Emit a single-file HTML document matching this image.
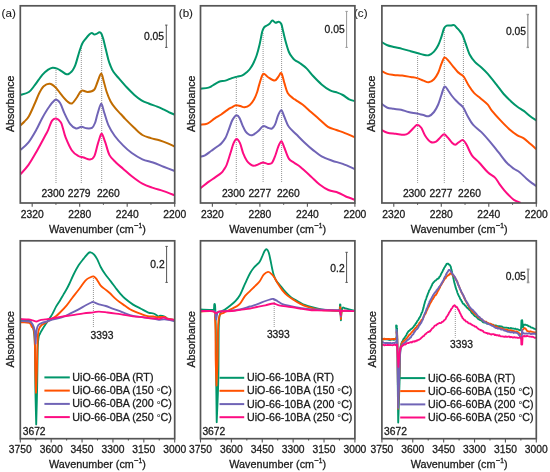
<!DOCTYPE html>
<html><head><meta charset="utf-8"><style>
html,body{margin:0;padding:0;background:#fff;}
svg{display:block;will-change:transform;}
</style></head><body>
<svg width="550" height="472" viewBox="0 0 550 472" font-family='"Liberation Sans", sans-serif' fill="#1a1a1a">
<style>text{stroke:#1a1a1a;stroke-width:0.28px;}</style>
<rect width="550" height="472" fill="#fff"/>
<defs>
<clipPath id="ct0"><rect x="20.30" y="5.80" width="154.40" height="197.20"/></clipPath>
<clipPath id="cb0"><rect x="20.30" y="240.80" width="154.40" height="197.90"/></clipPath>
<clipPath id="ct1"><rect x="200.50" y="5.80" width="154.40" height="197.20"/></clipPath>
<clipPath id="cb1"><rect x="200.50" y="240.80" width="154.40" height="197.90"/></clipPath>
<clipPath id="ct2"><rect x="381.90" y="5.80" width="154.40" height="197.20"/></clipPath>
<clipPath id="cb2"><rect x="381.90" y="240.80" width="154.40" height="197.90"/></clipPath>
</defs>
<line x1="32.18" y1="203.00" x2="32.18" y2="206.80" stroke="#555555" stroke-width="1.1"/>
<text x="32.18" y="217.60" font-size="10.3" text-anchor="middle" >2320</text>
<line x1="79.68" y1="203.00" x2="79.68" y2="206.80" stroke="#555555" stroke-width="1.1"/>
<text x="79.68" y="217.60" font-size="10.3" text-anchor="middle" >2280</text>
<line x1="127.19" y1="203.00" x2="127.19" y2="206.80" stroke="#555555" stroke-width="1.1"/>
<text x="127.19" y="217.60" font-size="10.3" text-anchor="middle" >2240</text>
<line x1="174.70" y1="203.00" x2="174.70" y2="206.80" stroke="#555555" stroke-width="1.1"/>
<text x="174.70" y="217.60" font-size="10.3" text-anchor="middle" >2200</text>
<line x1="55.93" y1="203.00" x2="55.93" y2="204.80" stroke="#555555" stroke-width="1.1"/>
<line x1="103.44" y1="203.00" x2="103.44" y2="204.80" stroke="#555555" stroke-width="1.1"/>
<line x1="150.95" y1="203.00" x2="150.95" y2="204.80" stroke="#555555" stroke-width="1.1"/>
<text x="97.50" y="232.60" font-size="10.8" text-anchor="middle">Wavenumber (cm<tspan font-size="7.6" dy="-4.9" dx="0.2">−</tspan><tspan font-size="6.6" dx="0.1">1</tspan><tspan dy="4.9" dx="0.1">)</tspan></text>
<text transform="translate(14.30,103.80) rotate(-90)" font-size="10.6" text-anchor="middle">Absorbance</text>
<line x1="20.30" y1="438.70" x2="20.30" y2="442.50" stroke="#555555" stroke-width="1.1"/>
<text x="20.30" y="452.70" font-size="10.3" text-anchor="middle" >3750</text>
<line x1="51.18" y1="438.70" x2="51.18" y2="442.50" stroke="#555555" stroke-width="1.1"/>
<text x="51.18" y="452.70" font-size="10.3" text-anchor="middle" >3600</text>
<line x1="82.06" y1="438.70" x2="82.06" y2="442.50" stroke="#555555" stroke-width="1.1"/>
<text x="82.06" y="452.70" font-size="10.3" text-anchor="middle" >3450</text>
<line x1="112.94" y1="438.70" x2="112.94" y2="442.50" stroke="#555555" stroke-width="1.1"/>
<text x="112.94" y="452.70" font-size="10.3" text-anchor="middle" >3300</text>
<line x1="143.82" y1="438.70" x2="143.82" y2="442.50" stroke="#555555" stroke-width="1.1"/>
<text x="143.82" y="452.70" font-size="10.3" text-anchor="middle" >3150</text>
<line x1="174.70" y1="438.70" x2="174.70" y2="442.50" stroke="#555555" stroke-width="1.1"/>
<text x="174.70" y="452.70" font-size="10.3" text-anchor="middle" >3000</text>
<line x1="35.74" y1="438.70" x2="35.74" y2="440.50" stroke="#555555" stroke-width="1.1"/>
<line x1="66.62" y1="438.70" x2="66.62" y2="440.50" stroke="#555555" stroke-width="1.1"/>
<line x1="97.50" y1="438.70" x2="97.50" y2="440.50" stroke="#555555" stroke-width="1.1"/>
<line x1="128.38" y1="438.70" x2="128.38" y2="440.50" stroke="#555555" stroke-width="1.1"/>
<line x1="159.26" y1="438.70" x2="159.26" y2="440.50" stroke="#555555" stroke-width="1.1"/>
<text x="97.50" y="468.30" font-size="10.8" text-anchor="middle">Wavenumber (cm<tspan font-size="7.6" dy="-4.9" dx="0.2">−</tspan><tspan font-size="6.6" dx="0.1">1</tspan><tspan dy="4.9" dx="0.1">)</tspan></text>
<text transform="translate(14.30,339.30) rotate(-90)" font-size="10.6" text-anchor="middle">Absorbance</text>
<line x1="212.38" y1="203.00" x2="212.38" y2="206.80" stroke="#555555" stroke-width="1.1"/>
<text x="212.38" y="217.60" font-size="10.3" text-anchor="middle" >2320</text>
<line x1="259.88" y1="203.00" x2="259.88" y2="206.80" stroke="#555555" stroke-width="1.1"/>
<text x="259.88" y="217.60" font-size="10.3" text-anchor="middle" >2280</text>
<line x1="307.39" y1="203.00" x2="307.39" y2="206.80" stroke="#555555" stroke-width="1.1"/>
<text x="307.39" y="217.60" font-size="10.3" text-anchor="middle" >2240</text>
<line x1="354.90" y1="203.00" x2="354.90" y2="206.80" stroke="#555555" stroke-width="1.1"/>
<text x="354.90" y="217.60" font-size="10.3" text-anchor="middle" >2200</text>
<line x1="236.13" y1="203.00" x2="236.13" y2="204.80" stroke="#555555" stroke-width="1.1"/>
<line x1="283.64" y1="203.00" x2="283.64" y2="204.80" stroke="#555555" stroke-width="1.1"/>
<line x1="331.15" y1="203.00" x2="331.15" y2="204.80" stroke="#555555" stroke-width="1.1"/>
<text x="277.70" y="232.60" font-size="10.8" text-anchor="middle">Wavenumber (cm<tspan font-size="7.6" dy="-4.9" dx="0.2">−</tspan><tspan font-size="6.6" dx="0.1">1</tspan><tspan dy="4.9" dx="0.1">)</tspan></text>
<text transform="translate(194.50,103.80) rotate(-90)" font-size="10.6" text-anchor="middle">Absorbance</text>
<line x1="200.50" y1="438.70" x2="200.50" y2="442.50" stroke="#555555" stroke-width="1.1"/>
<text x="200.50" y="452.70" font-size="10.3" text-anchor="middle" >3750</text>
<line x1="231.38" y1="438.70" x2="231.38" y2="442.50" stroke="#555555" stroke-width="1.1"/>
<text x="231.38" y="452.70" font-size="10.3" text-anchor="middle" >3600</text>
<line x1="262.26" y1="438.70" x2="262.26" y2="442.50" stroke="#555555" stroke-width="1.1"/>
<text x="262.26" y="452.70" font-size="10.3" text-anchor="middle" >3450</text>
<line x1="293.14" y1="438.70" x2="293.14" y2="442.50" stroke="#555555" stroke-width="1.1"/>
<text x="293.14" y="452.70" font-size="10.3" text-anchor="middle" >3300</text>
<line x1="324.02" y1="438.70" x2="324.02" y2="442.50" stroke="#555555" stroke-width="1.1"/>
<text x="324.02" y="452.70" font-size="10.3" text-anchor="middle" >3150</text>
<line x1="354.90" y1="438.70" x2="354.90" y2="442.50" stroke="#555555" stroke-width="1.1"/>
<text x="354.90" y="452.70" font-size="10.3" text-anchor="middle" >3000</text>
<line x1="215.94" y1="438.70" x2="215.94" y2="440.50" stroke="#555555" stroke-width="1.1"/>
<line x1="246.82" y1="438.70" x2="246.82" y2="440.50" stroke="#555555" stroke-width="1.1"/>
<line x1="277.70" y1="438.70" x2="277.70" y2="440.50" stroke="#555555" stroke-width="1.1"/>
<line x1="308.58" y1="438.70" x2="308.58" y2="440.50" stroke="#555555" stroke-width="1.1"/>
<line x1="339.46" y1="438.70" x2="339.46" y2="440.50" stroke="#555555" stroke-width="1.1"/>
<text x="277.70" y="468.30" font-size="10.8" text-anchor="middle">Wavenumber (cm<tspan font-size="7.6" dy="-4.9" dx="0.2">−</tspan><tspan font-size="6.6" dx="0.1">1</tspan><tspan dy="4.9" dx="0.1">)</tspan></text>
<text transform="translate(194.50,339.30) rotate(-90)" font-size="10.6" text-anchor="middle">Absorbance</text>
<line x1="393.78" y1="203.00" x2="393.78" y2="206.80" stroke="#555555" stroke-width="1.1"/>
<text x="393.78" y="217.60" font-size="10.3" text-anchor="middle" >2320</text>
<line x1="441.28" y1="203.00" x2="441.28" y2="206.80" stroke="#555555" stroke-width="1.1"/>
<text x="441.28" y="217.60" font-size="10.3" text-anchor="middle" >2280</text>
<line x1="488.79" y1="203.00" x2="488.79" y2="206.80" stroke="#555555" stroke-width="1.1"/>
<text x="488.79" y="217.60" font-size="10.3" text-anchor="middle" >2240</text>
<line x1="536.30" y1="203.00" x2="536.30" y2="206.80" stroke="#555555" stroke-width="1.1"/>
<text x="536.30" y="217.60" font-size="10.3" text-anchor="middle" >2200</text>
<line x1="417.53" y1="203.00" x2="417.53" y2="204.80" stroke="#555555" stroke-width="1.1"/>
<line x1="465.04" y1="203.00" x2="465.04" y2="204.80" stroke="#555555" stroke-width="1.1"/>
<line x1="512.55" y1="203.00" x2="512.55" y2="204.80" stroke="#555555" stroke-width="1.1"/>
<text x="459.10" y="232.60" font-size="10.8" text-anchor="middle">Wavenumber (cm<tspan font-size="7.6" dy="-4.9" dx="0.2">−</tspan><tspan font-size="6.6" dx="0.1">1</tspan><tspan dy="4.9" dx="0.1">)</tspan></text>
<text transform="translate(375.30,103.80) rotate(-90)" font-size="10.6" text-anchor="middle">Absorbance</text>
<line x1="381.90" y1="438.70" x2="381.90" y2="442.50" stroke="#555555" stroke-width="1.1"/>
<text x="381.90" y="452.70" font-size="10.3" text-anchor="middle" >3750</text>
<line x1="412.78" y1="438.70" x2="412.78" y2="442.50" stroke="#555555" stroke-width="1.1"/>
<text x="412.78" y="452.70" font-size="10.3" text-anchor="middle" >3600</text>
<line x1="443.66" y1="438.70" x2="443.66" y2="442.50" stroke="#555555" stroke-width="1.1"/>
<text x="443.66" y="452.70" font-size="10.3" text-anchor="middle" >3450</text>
<line x1="474.54" y1="438.70" x2="474.54" y2="442.50" stroke="#555555" stroke-width="1.1"/>
<text x="474.54" y="452.70" font-size="10.3" text-anchor="middle" >3300</text>
<line x1="505.42" y1="438.70" x2="505.42" y2="442.50" stroke="#555555" stroke-width="1.1"/>
<text x="505.42" y="452.70" font-size="10.3" text-anchor="middle" >3150</text>
<line x1="536.30" y1="438.70" x2="536.30" y2="442.50" stroke="#555555" stroke-width="1.1"/>
<text x="536.30" y="452.70" font-size="10.3" text-anchor="middle" >3000</text>
<line x1="397.34" y1="438.70" x2="397.34" y2="440.50" stroke="#555555" stroke-width="1.1"/>
<line x1="428.22" y1="438.70" x2="428.22" y2="440.50" stroke="#555555" stroke-width="1.1"/>
<line x1="459.10" y1="438.70" x2="459.10" y2="440.50" stroke="#555555" stroke-width="1.1"/>
<line x1="489.98" y1="438.70" x2="489.98" y2="440.50" stroke="#555555" stroke-width="1.1"/>
<line x1="520.86" y1="438.70" x2="520.86" y2="440.50" stroke="#555555" stroke-width="1.1"/>
<text x="459.10" y="468.30" font-size="10.8" text-anchor="middle">Wavenumber (cm<tspan font-size="7.6" dy="-4.9" dx="0.2">−</tspan><tspan font-size="6.6" dx="0.1">1</tspan><tspan dy="4.9" dx="0.1">)</tspan></text>
<text transform="translate(375.50,339.30) rotate(-90)" font-size="10.6" text-anchor="middle">Absorbance</text>
<text x="1.60" y="16.70" font-size="11.6" text-anchor="start" style="stroke-width:0.1px">(a)</text>
<text x="178.80" y="16.70" font-size="11.6" text-anchor="start" style="stroke-width:0.1px">(b)</text>
<text x="354.00" y="16.70" font-size="11.6" text-anchor="start" style="stroke-width:0.1px">(c)</text>
<line x1="56.00" y1="70.00" x2="56.00" y2="183.50" stroke="#808080" stroke-width="0.85" stroke-dasharray="1 1"/>
<line x1="81.30" y1="48.00" x2="81.30" y2="183.50" stroke="#808080" stroke-width="0.85" stroke-dasharray="1 1"/>
<line x1="101.70" y1="34.00" x2="101.70" y2="183.50" stroke="#808080" stroke-width="0.85" stroke-dasharray="1 1"/>
<line x1="236.30" y1="78.00" x2="236.30" y2="182.80" stroke="#808080" stroke-width="0.85" stroke-dasharray="1 1"/>
<line x1="263.10" y1="33.00" x2="263.10" y2="182.80" stroke="#808080" stroke-width="0.85" stroke-dasharray="1 1"/>
<line x1="281.60" y1="25.00" x2="281.60" y2="182.80" stroke="#808080" stroke-width="0.85" stroke-dasharray="1 1"/>
<line x1="417.60" y1="56.00" x2="417.60" y2="182.90" stroke="#808080" stroke-width="0.85" stroke-dasharray="1 1"/>
<line x1="444.30" y1="28.00" x2="444.30" y2="182.90" stroke="#808080" stroke-width="0.85" stroke-dasharray="1 1"/>
<line x1="463.40" y1="39.00" x2="463.40" y2="182.90" stroke="#808080" stroke-width="0.85" stroke-dasharray="1 1"/>
<g clip-path="url(#ct0)">
<path d="M20.30,174.40 C21.67,172.82 25.73,168.80 28.50,164.90 C31.27,161.00 34.08,155.93 36.90,151.00 C39.72,146.07 43.52,138.83 45.40,135.30 C47.28,131.77 47.12,132.22 48.20,129.80 C49.28,127.38 50.58,122.67 51.90,120.80 C53.22,118.93 54.62,118.35 56.10,118.60 C57.58,118.85 59.65,120.65 60.80,122.30 C61.95,123.95 62.20,125.98 63.00,128.50 C63.80,131.02 64.12,133.73 65.60,137.40 C67.08,141.07 69.78,147.40 71.90,150.50 C74.02,153.60 76.35,154.83 78.30,156.00 C80.25,157.17 81.67,156.90 83.60,157.50 C85.53,158.10 88.13,159.78 89.90,159.60 C91.67,159.42 92.97,158.70 94.20,156.40 C95.43,154.10 96.50,148.53 97.30,145.80 C98.10,143.07 98.27,142.00 99.00,140.00 C99.73,138.00 100.65,133.40 101.70,133.80 C102.75,134.20 104.00,138.85 105.30,142.40 C106.60,145.95 107.73,151.75 109.50,155.10 C111.27,158.45 113.60,160.20 115.90,162.50 C118.20,164.80 120.65,166.60 123.30,168.90 C125.95,171.20 128.62,173.83 131.80,176.30 C134.98,178.77 138.87,181.77 142.40,183.70 C145.93,185.63 149.47,186.67 153.00,187.90 C156.53,189.13 159.98,189.87 163.60,191.10 C167.22,192.33 172.85,194.60 174.70,195.30" fill="none" stroke="#fd0c82" stroke-width="2.0" stroke-linejoin="round" stroke-linecap="round" />
<path d="M20.30,150.10 C21.67,148.80 25.83,145.68 28.50,142.30 C31.17,138.92 34.00,133.87 36.30,129.80 C38.60,125.73 40.07,121.87 42.30,117.90 C44.53,113.93 47.48,109.02 49.70,106.00 C51.92,102.98 53.87,100.30 55.60,99.80 C57.33,99.30 58.62,100.73 60.10,103.00 C61.58,105.27 62.85,109.93 64.50,113.40 C66.15,116.87 68.07,121.28 70.00,123.80 C71.93,126.32 74.20,128.00 76.10,128.50 C78.00,129.00 79.63,126.83 81.40,126.80 C83.17,126.77 84.93,128.13 86.70,128.30 C88.47,128.47 90.62,128.68 92.00,127.80 C93.38,126.92 94.08,125.30 95.00,123.00 C95.92,120.70 96.47,117.20 97.50,114.00 C98.53,110.80 100.08,104.05 101.20,103.80 C102.32,103.55 102.98,108.90 104.20,112.50 C105.42,116.10 106.73,121.48 108.50,125.40 C110.27,129.32 112.33,132.63 114.80,136.00 C117.27,139.37 120.47,142.77 123.30,145.60 C126.13,148.43 128.62,150.72 131.80,153.00 C134.98,155.28 138.87,157.72 142.40,159.30 C145.93,160.88 149.47,161.27 153.00,162.50 C156.53,163.73 159.98,165.28 163.60,166.70 C167.22,168.12 172.85,170.28 174.70,171.00" fill="none" stroke="#7064b6" stroke-width="2.0" stroke-linejoin="round" stroke-linecap="round" />
<path d="M20.30,125.50 C21.00,124.83 23.07,123.05 24.50,121.50 C25.93,119.95 27.18,119.20 28.90,116.20 C30.62,113.20 33.07,107.37 34.80,103.50 C36.53,99.63 37.82,95.88 39.30,93.00 C40.78,90.12 41.97,87.75 43.70,86.20 C45.43,84.65 47.72,83.50 49.70,83.70 C51.68,83.90 53.63,85.53 55.60,87.40 C57.57,89.27 59.52,92.55 61.50,94.90 C63.48,97.25 65.77,100.07 67.50,101.50 C69.23,102.93 70.40,104.08 71.90,103.50 C73.40,102.92 74.92,100.12 76.50,98.00 C78.08,95.88 79.52,91.82 81.40,90.80 C83.28,89.78 85.67,92.08 87.80,91.90 C89.93,91.72 92.58,91.35 94.20,89.70 C95.82,88.05 96.33,84.72 97.50,82.00 C98.67,79.28 100.15,73.48 101.20,73.40 C102.25,73.32 102.88,78.40 103.80,81.50 C104.72,84.60 105.58,88.72 106.70,92.00 C107.82,95.28 109.07,98.50 110.50,101.20 C111.93,103.90 113.55,106.02 115.30,108.20 C117.05,110.38 119.32,112.48 121.00,114.30 C122.68,116.12 123.25,116.90 125.40,119.10 C127.55,121.30 131.07,124.85 133.90,127.50 C136.73,130.15 139.58,133.23 142.40,135.00 C145.22,136.77 147.98,137.22 150.80,138.10 C153.62,138.98 156.47,139.42 159.30,140.30 C162.13,141.18 165.23,142.35 167.80,143.40 C170.37,144.45 173.55,146.07 174.70,146.60" fill="none" stroke="#c06c00" stroke-width="2.0" stroke-linejoin="round" stroke-linecap="round" />
<path d="M20.30,95.00 C21.73,94.50 26.48,93.63 28.90,92.00 C31.32,90.37 32.57,88.07 34.80,85.20 C37.03,82.33 40.07,77.40 42.30,74.80 C44.53,72.20 46.48,70.78 48.20,69.60 C49.92,68.42 51.12,67.87 52.60,67.70 C54.08,67.53 55.62,68.03 57.10,68.60 C58.58,69.17 59.93,70.15 61.50,71.10 C63.07,72.05 65.08,73.98 66.50,74.30 C67.92,74.62 68.97,73.67 70.00,73.00 C71.03,72.33 71.82,71.60 72.70,70.30 C73.58,69.00 74.45,67.43 75.30,65.20 C76.15,62.97 77.07,59.35 77.80,56.90 C78.53,54.45 78.95,52.73 79.70,50.50 C80.45,48.27 81.35,45.40 82.30,43.50 C83.25,41.60 84.23,40.58 85.40,39.10 C86.57,37.62 88.23,35.60 89.30,34.60 C90.37,33.60 90.95,33.10 91.80,33.10 C92.65,33.10 93.55,34.50 94.40,34.60 C95.25,34.70 96.07,34.10 96.90,33.70 C97.73,33.30 98.67,32.25 99.40,32.20 C100.13,32.15 100.65,32.25 101.30,33.40 C101.95,34.55 102.55,36.45 103.30,39.10 C104.05,41.75 104.97,45.92 105.80,49.30 C106.63,52.68 107.57,56.78 108.30,59.40 C109.03,62.02 109.35,62.93 110.20,65.00 C111.05,67.07 111.92,69.52 113.40,71.80 C114.88,74.08 116.88,76.12 119.10,78.70 C121.32,81.28 124.15,84.60 126.70,87.30 C129.25,90.00 131.93,92.73 134.40,94.90 C136.87,97.07 139.12,98.87 141.50,100.30 C143.88,101.73 146.08,102.45 148.70,103.50 C151.32,104.55 154.75,105.62 157.20,106.60 C159.65,107.58 161.48,108.48 163.40,109.40 C165.32,110.32 166.82,111.22 168.70,112.10 C170.58,112.98 173.70,114.27 174.70,114.70" fill="none" stroke="#00966a" stroke-width="2.0" stroke-linejoin="round" stroke-linecap="round" />
</g>
<text x="41.50" y="197.00" font-size="10.3" text-anchor="start" >2300</text>
<text x="67.70" y="197.00" font-size="10.3" text-anchor="start" >2279</text>
<text x="96.90" y="197.00" font-size="10.3" text-anchor="start" >2260</text>
<line x1="166.30" y1="25.10" x2="166.30" y2="47.40" stroke="#555" stroke-width="1.0"/>
<line x1="165.10" y1="25.10" x2="167.50" y2="25.10" stroke="#555" stroke-width="1.0"/>
<line x1="165.10" y1="47.40" x2="167.50" y2="47.40" stroke="#555" stroke-width="1.0"/>
<text x="144.00" y="39.60" font-size="10.3" text-anchor="start" >0.05</text>
<g clip-path="url(#ct1)">
<path d="M200.50,188.20 C201.83,187.15 206.12,183.67 208.50,181.90 C210.88,180.13 212.68,179.08 214.80,177.60 C216.92,176.12 219.67,174.35 221.20,173.00 C222.73,171.65 223.10,170.83 224.00,169.50 C224.90,168.17 225.53,167.70 226.60,165.00 C227.67,162.30 229.23,156.93 230.40,153.30 C231.57,149.67 232.57,145.57 233.60,143.20 C234.63,140.83 235.53,139.10 236.60,139.10 C237.67,139.10 238.90,140.83 240.00,143.20 C241.10,145.57 242.03,150.33 243.20,153.30 C244.37,156.27 245.83,159.18 247.00,161.00 C248.17,162.82 249.03,163.40 250.20,164.20 C251.37,165.00 252.48,165.85 254.00,165.80 C255.52,165.75 257.78,164.47 259.30,163.90 C260.82,163.33 261.68,162.40 263.10,162.40 C264.52,162.40 266.32,163.83 267.80,163.90 C269.28,163.97 270.72,164.28 272.00,162.80 C273.28,161.32 274.47,157.65 275.50,155.00 C276.53,152.35 277.22,149.20 278.20,146.90 C279.18,144.60 280.35,141.02 281.40,141.20 C282.45,141.38 283.27,145.10 284.50,148.00 C285.73,150.90 287.20,156.13 288.80,158.60 C290.40,161.07 292.17,161.40 294.10,162.80 C296.03,164.20 297.60,164.73 300.40,167.00 C303.20,169.27 307.70,173.48 310.90,176.40 C314.10,179.32 316.68,182.23 319.60,184.50 C322.52,186.77 325.30,188.63 328.40,190.00 C331.50,191.37 335.30,191.62 338.20,192.70 C341.10,193.78 342.98,195.32 345.80,196.50 C348.62,197.68 353.55,199.25 355.10,199.80" fill="none" stroke="#fd0c82" stroke-width="2.0" stroke-linejoin="round" stroke-linecap="round" />
<path d="M200.50,156.60 C201.25,156.38 203.18,156.27 205.00,155.30 C206.82,154.33 209.28,152.30 211.40,150.80 C213.52,149.30 216.02,147.57 217.70,146.30 C219.38,145.03 220.22,144.57 221.50,143.20 C222.78,141.83 224.23,140.23 225.40,138.10 C226.57,135.97 227.45,133.17 228.50,130.40 C229.55,127.63 230.73,123.72 231.70,121.50 C232.67,119.28 233.48,118.15 234.30,117.10 C235.12,116.05 235.75,115.10 236.60,115.20 C237.45,115.30 238.42,116.00 239.40,117.70 C240.38,119.40 241.45,123.07 242.50,125.40 C243.55,127.73 244.53,130.12 245.70,131.70 C246.87,133.28 248.28,134.38 249.50,134.90 C250.72,135.42 251.53,135.45 253.00,134.80 C254.47,134.15 256.62,132.45 258.30,131.00 C259.98,129.55 261.52,126.63 263.10,126.10 C264.68,125.57 266.32,127.40 267.80,127.80 C269.28,128.20 270.80,129.02 272.00,128.50 C273.20,127.98 273.97,126.93 275.00,124.70 C276.03,122.47 277.13,117.50 278.20,115.10 C279.27,112.70 280.35,109.95 281.40,110.30 C282.45,110.65 283.27,114.45 284.50,117.20 C285.73,119.95 286.85,123.97 288.80,126.80 C290.75,129.63 293.55,131.55 296.20,134.20 C298.85,136.85 301.88,140.05 304.70,142.70 C307.52,145.35 310.28,147.82 313.10,150.10 C315.92,152.38 318.42,154.63 321.60,156.40 C324.78,158.17 328.67,159.45 332.20,160.70 C335.73,161.95 338.98,162.47 342.80,163.90 C346.62,165.33 353.05,168.40 355.10,169.30" fill="none" stroke="#7064b6" stroke-width="2.0" stroke-linejoin="round" stroke-linecap="round" />
<path d="M200.50,124.70 C201.65,124.52 205.02,124.67 207.40,123.60 C209.78,122.53 212.50,119.82 214.80,118.30 C217.10,116.78 219.08,115.92 221.20,114.50 C223.32,113.08 225.73,111.00 227.50,109.80 C229.27,108.60 230.38,108.07 231.80,107.30 C233.22,106.53 234.58,105.42 236.00,105.20 C237.42,104.98 238.88,105.65 240.30,106.00 C241.72,106.35 242.92,107.47 244.50,107.30 C246.08,107.13 248.22,106.30 249.80,105.00 C251.38,103.70 252.77,101.67 254.00,99.50 C255.23,97.33 256.32,94.52 257.20,92.00 C258.08,89.48 258.32,87.42 259.30,84.40 C260.28,81.38 261.68,75.13 263.10,73.90 C264.52,72.67 265.88,75.88 267.80,77.00 C269.72,78.12 272.87,80.60 274.60,80.60 C276.33,80.60 277.07,78.23 278.20,77.00 C279.33,75.77 280.35,72.13 281.40,73.20 C282.45,74.27 283.45,80.12 284.50,83.40 C285.55,86.68 286.28,90.43 287.70,92.90 C289.12,95.37 291.58,96.97 293.00,98.20 C294.42,99.43 294.62,99.25 296.20,100.30 C297.78,101.35 300.03,102.55 302.50,104.50 C304.97,106.45 308.17,109.52 311.00,112.00 C313.83,114.48 316.67,116.93 319.50,119.40 C322.33,121.87 325.18,125.03 328.00,126.80 C330.82,128.57 333.58,128.95 336.40,130.00 C339.22,131.05 341.78,131.87 344.90,133.10 C348.02,134.33 353.40,136.68 355.10,137.40" fill="none" stroke="#ff5200" stroke-width="2.0" stroke-linejoin="round" stroke-linecap="round" />
<path d="M200.50,88.70 C201.83,88.52 206.47,88.13 208.50,87.60 C210.53,87.07 210.93,86.48 212.70,85.50 C214.47,84.52 216.98,82.52 219.10,81.70 C221.22,80.88 223.28,81.20 225.40,80.60 C227.52,80.00 229.85,78.77 231.80,78.10 C233.75,77.43 235.33,77.07 237.10,76.60 C238.87,76.13 240.82,76.02 242.40,75.30 C243.98,74.58 245.42,73.27 246.60,72.30 C247.78,71.33 248.43,70.88 249.50,69.50 C250.57,68.12 251.83,66.28 253.00,64.00 C254.17,61.72 255.40,59.07 256.50,55.80 C257.60,52.53 258.65,48.40 259.60,44.40 C260.55,40.40 261.45,34.63 262.20,31.80 C262.95,28.97 263.25,28.48 264.10,27.40 C264.95,26.32 266.35,25.97 267.30,25.30 C268.25,24.63 268.95,24.18 269.80,23.40 C270.65,22.62 271.45,20.72 272.40,20.60 C273.35,20.48 274.45,22.50 275.50,22.70 C276.55,22.90 277.73,21.58 278.70,21.80 C279.67,22.02 280.55,22.37 281.30,24.00 C282.05,25.63 282.47,28.63 283.20,31.60 C283.93,34.57 284.75,38.40 285.70,41.80 C286.65,45.20 287.83,49.45 288.90,52.00 C289.97,54.55 291.08,55.73 292.10,57.10 C293.12,58.47 293.62,59.13 295.00,60.20 C296.38,61.27 298.43,62.10 300.40,63.50 C302.37,64.90 304.68,66.52 306.80,68.60 C308.92,70.68 310.63,73.37 313.10,76.00 C315.57,78.63 318.77,82.00 321.60,84.40 C324.43,86.80 327.63,89.08 330.10,90.40 C332.57,91.72 334.28,91.53 336.40,92.30 C338.52,93.07 340.67,93.83 342.80,95.00 C344.93,96.17 347.15,98.27 349.20,99.30 C351.25,100.33 354.12,100.88 355.10,101.20" fill="none" stroke="#00966a" stroke-width="2.0" stroke-linejoin="round" stroke-linecap="round" />
</g>
<text x="221.90" y="197.00" font-size="10.3" text-anchor="start" >2300</text>
<text x="248.40" y="197.00" font-size="10.3" text-anchor="start" >2277</text>
<text x="276.90" y="197.00" font-size="10.3" text-anchor="start" >2260</text>
<line x1="346.60" y1="11.40" x2="346.60" y2="47.40" stroke="#999" stroke-width="1.0"/>
<line x1="345.40" y1="11.40" x2="347.80" y2="11.40" stroke="#999" stroke-width="1.0"/>
<line x1="345.40" y1="47.40" x2="347.80" y2="47.40" stroke="#999" stroke-width="1.0"/>
<text x="324.60" y="33.20" font-size="10.3" text-anchor="start" >0.05</text>
<g clip-path="url(#ct2)">
<path d="M381.70,130.00 C382.65,130.45 385.05,132.07 387.40,132.70 C389.75,133.33 392.98,133.45 395.80,133.80 C398.62,134.15 402.18,134.92 404.30,134.80 C406.42,134.68 406.92,134.27 408.50,133.10 C410.08,131.93 412.32,129.20 413.80,127.80 C415.28,126.40 416.15,124.70 417.40,124.70 C418.65,124.70 419.95,125.87 421.30,127.80 C422.65,129.73 423.92,133.93 425.50,136.30 C427.08,138.67 429.03,141.12 430.80,142.00 C432.57,142.88 434.52,142.37 436.10,141.60 C437.68,140.83 438.97,138.63 440.30,137.40 C441.63,136.17 442.87,134.20 444.10,134.20 C445.33,134.20 446.38,135.98 447.70,137.40 C449.02,138.82 450.75,141.47 452.00,142.70 C453.25,143.93 454.15,144.80 455.20,144.80 C456.25,144.80 457.00,143.48 458.30,142.70 C459.60,141.92 461.62,139.75 463.00,140.10 C464.38,140.45 465.12,142.25 466.60,144.80 C468.08,147.35 469.78,152.40 471.90,155.40 C474.02,158.40 476.65,159.98 479.30,162.80 C481.95,165.62 485.22,169.87 487.80,172.30 C490.38,174.73 492.85,175.43 494.80,177.40 C496.75,179.37 497.92,181.95 499.50,184.10 C501.08,186.25 502.70,188.40 504.30,190.30 C505.90,192.20 507.50,193.92 509.10,195.50 C510.70,197.08 512.07,198.60 513.90,199.80 C515.73,201.00 519.07,202.22 520.10,202.70" fill="none" stroke="#fd0c82" stroke-width="2.0" stroke-linejoin="round" stroke-linecap="round" />
<path d="M381.70,103.90 C382.65,104.53 385.40,106.88 387.40,107.70 C389.40,108.52 391.42,108.45 393.70,108.80 C395.98,109.15 398.63,109.27 401.10,109.80 C403.57,110.33 405.85,111.37 408.50,112.00 C411.15,112.63 414.52,113.08 417.00,113.60 C419.48,114.12 421.45,114.67 423.40,115.10 C425.35,115.53 426.93,116.72 428.70,116.20 C430.47,115.68 432.42,113.95 434.00,112.00 C435.58,110.05 436.97,107.33 438.20,104.50 C439.43,101.67 440.33,97.98 441.40,95.00 C442.47,92.02 443.42,87.27 444.60,86.60 C445.78,85.93 447.27,89.43 448.50,91.00 C449.73,92.57 450.72,94.37 452.00,96.00 C453.28,97.63 454.83,99.38 456.20,100.80 C457.57,102.22 459.00,103.35 460.20,104.50 C461.40,105.65 462.15,105.75 463.40,107.70 C464.65,109.65 466.10,113.37 467.70,116.20 C469.30,119.03 470.72,122.05 473.00,124.70 C475.28,127.35 478.58,129.28 481.40,132.10 C484.22,134.92 487.07,138.25 489.90,141.60 C492.73,144.95 495.58,148.67 498.40,152.20 C501.22,155.73 504.22,160.03 506.80,162.80 C509.38,165.57 511.77,167.23 513.90,168.80 C516.03,170.37 517.53,170.60 519.60,172.20 C521.67,173.80 524.23,176.58 526.30,178.40 C528.37,180.22 530.33,181.83 532.00,183.10 C533.67,184.37 535.58,185.52 536.30,186.00" fill="none" stroke="#7064b6" stroke-width="2.0" stroke-linejoin="round" stroke-linecap="round" />
<path d="M381.70,71.10 C382.65,71.57 385.40,73.27 387.40,73.90 C389.40,74.53 391.23,74.62 393.70,74.90 C396.17,75.18 399.37,75.25 402.20,75.60 C405.03,75.95 408.23,76.58 410.70,77.00 C413.17,77.42 414.88,77.50 417.00,78.10 C419.12,78.70 421.45,79.90 423.40,80.60 C425.35,81.30 426.93,82.53 428.70,82.30 C430.47,82.07 432.42,80.78 434.00,79.20 C435.58,77.62 436.97,75.35 438.20,72.80 C439.43,70.25 440.33,66.45 441.40,63.90 C442.47,61.35 443.37,57.97 444.60,57.50 C445.83,57.03 447.40,59.62 448.80,61.10 C450.20,62.58 451.58,64.67 453.00,66.40 C454.42,68.13 456.10,70.25 457.30,71.50 C458.50,72.75 459.08,72.98 460.20,73.90 C461.32,74.82 462.58,75.07 464.00,77.00 C465.42,78.93 467.03,82.85 468.70,85.50 C470.37,88.15 472.05,90.78 474.00,92.90 C475.95,95.02 478.10,96.25 480.40,98.20 C482.70,100.15 485.87,102.48 487.80,104.60 C489.73,106.72 489.88,108.27 492.00,110.90 C494.12,113.53 497.67,117.40 500.50,120.40 C503.33,123.40 506.18,126.42 509.00,128.90 C511.82,131.38 514.93,133.72 517.40,135.30 C519.87,136.88 521.67,137.00 523.80,138.40 C525.93,139.80 528.12,141.93 530.20,143.70 C532.28,145.47 535.28,148.12 536.30,149.00" fill="none" stroke="#ff5200" stroke-width="2.0" stroke-linejoin="round" stroke-linecap="round" />
<path d="M381.70,42.10 C382.65,42.63 385.40,44.48 387.40,45.30 C389.40,46.12 391.23,46.40 393.70,47.00 C396.17,47.60 399.37,48.20 402.20,48.90 C405.03,49.60 408.05,50.47 410.70,51.20 C413.35,51.93 415.98,52.70 418.10,53.30 C420.22,53.90 421.63,54.48 423.40,54.80 C425.17,55.12 426.93,55.73 428.70,55.20 C430.47,54.67 432.42,53.25 434.00,51.60 C435.58,49.95 436.97,47.77 438.20,45.30 C439.43,42.83 440.42,39.63 441.40,36.80 C442.38,33.97 443.22,30.17 444.10,28.30 C444.98,26.43 445.57,26.05 446.70,25.60 C447.83,25.15 449.67,25.68 450.90,25.60 C452.13,25.52 453.03,24.63 454.10,25.10 C455.17,25.57 456.45,27.52 457.30,28.40 C458.15,29.28 458.35,29.35 459.20,30.40 C460.05,31.45 461.35,32.58 462.40,34.70 C463.45,36.82 464.27,39.75 465.50,43.10 C466.73,46.45 468.20,51.62 469.80,54.80 C471.40,57.98 473.17,60.08 475.10,62.20 C477.03,64.32 479.28,65.55 481.40,67.50 C483.52,69.45 485.32,71.08 487.80,73.90 C490.28,76.72 493.65,81.05 496.30,84.40 C498.95,87.75 501.23,91.17 503.70,94.00 C506.17,96.83 508.82,99.28 511.10,101.40 C513.38,103.52 515.28,105.12 517.40,106.70 C519.52,108.28 521.67,109.32 523.80,110.90 C525.93,112.48 528.12,114.62 530.20,116.20 C532.28,117.78 535.28,119.70 536.30,120.40" fill="none" stroke="#00966a" stroke-width="2.0" stroke-linejoin="round" stroke-linecap="round" />
</g>
<text x="402.90" y="197.00" font-size="10.3" text-anchor="start" >2300</text>
<text x="429.50" y="197.00" font-size="10.3" text-anchor="start" >2277</text>
<text x="458.00" y="197.00" font-size="10.3" text-anchor="start" >2260</text>
<line x1="527.80" y1="14.50" x2="527.80" y2="47.40" stroke="#999" stroke-width="1.4"/>
<line x1="526.60" y1="14.50" x2="529.00" y2="14.50" stroke="#999" stroke-width="1.4"/>
<line x1="526.60" y1="47.40" x2="529.00" y2="47.40" stroke="#999" stroke-width="1.4"/>
<text x="506.00" y="34.70" font-size="10.3" text-anchor="start" >0.05</text>
<line x1="93.40" y1="278.00" x2="93.40" y2="327.30" stroke="#808080" stroke-width="0.85" stroke-dasharray="1 1"/>
<line x1="274.20" y1="300.00" x2="274.20" y2="327.20" stroke="#808080" stroke-width="0.85" stroke-dasharray="1 1"/>
<line x1="455.30" y1="307.00" x2="455.30" y2="337.70" stroke="#808080" stroke-width="0.85" stroke-dasharray="1 1"/>
<g clip-path="url(#cb0)">
<path d="M20.30,320.10 C21.67,320.17 26.72,320.10 28.50,320.50 C30.28,320.90 30.15,320.92 31.00,322.50 C31.85,324.08 32.95,326.25 33.60,330.00 C34.25,333.75 34.60,335.00 34.90,345.00 C35.20,355.00 35.18,376.77 35.40,390.00 C35.62,403.23 36.07,418.67 36.20,424.40 C36.35,418.67 36.85,402.40 37.10,390.00 C37.35,377.60 37.47,358.67 37.70,350.00 C37.93,341.33 38.13,340.70 38.50,338.00 C38.87,335.30 39.32,335.13 39.90,333.80 C40.48,332.47 41.08,331.53 42.00,330.00 C42.92,328.47 44.28,326.33 45.40,324.60 C46.52,322.87 47.60,321.27 48.70,319.60 C49.80,317.93 50.75,316.80 52.00,314.60 C53.25,312.40 54.87,308.77 56.20,306.40 C57.53,304.03 58.80,302.37 60.00,300.40 C61.20,298.43 62.28,296.50 63.40,294.60 C64.52,292.70 65.68,290.85 66.70,289.00 C67.72,287.15 68.35,285.92 69.50,283.50 C70.65,281.08 72.08,277.53 73.60,274.50 C75.12,271.47 76.92,267.95 78.60,265.30 C80.28,262.65 82.13,260.57 83.70,258.60 C85.27,256.63 86.87,254.55 88.00,253.50 C89.13,252.45 89.52,252.17 90.50,252.30 C91.48,252.43 92.77,253.12 93.90,254.30 C95.03,255.48 96.17,257.28 97.30,259.40 C98.43,261.52 99.43,264.60 100.70,267.00 C101.97,269.40 103.22,271.40 104.90,273.80 C106.58,276.20 108.97,279.00 110.80,281.40 C112.63,283.80 114.37,286.22 115.90,288.20 C117.43,290.18 118.53,291.62 120.00,293.30 C121.47,294.98 122.52,296.42 124.70,298.30 C126.88,300.18 130.40,302.87 133.10,304.60 C135.80,306.33 138.37,307.37 140.90,308.70 C143.43,310.03 146.20,311.80 148.30,312.60 C150.40,313.40 152.02,312.98 153.50,313.50 C154.98,314.02 156.33,315.20 157.20,315.70 C158.07,316.20 158.20,316.50 158.70,316.50 C159.20,316.50 159.22,315.70 160.20,315.70 C161.18,315.70 163.37,316.00 164.60,316.50 C165.83,317.00 165.92,318.08 167.60,318.70 C169.28,319.32 173.52,319.95 174.70,320.20" fill="none" stroke="#00966a" stroke-width="1.85" stroke-linejoin="round" stroke-linecap="round" />
<path d="M20.30,322.40 C21.80,322.47 27.37,322.03 29.30,322.80 C31.23,323.57 31.18,326.02 31.90,327.00 C32.62,327.98 33.17,327.37 33.60,328.70 C34.03,330.03 34.27,331.45 34.50,335.00 C34.73,338.55 34.87,344.17 35.00,350.00 C35.13,355.83 35.13,362.88 35.30,370.00 C35.47,377.12 35.88,388.92 36.00,392.70 C36.15,388.92 36.68,377.12 36.90,370.00 C37.12,362.88 37.13,355.83 37.30,350.00 C37.47,344.17 37.60,338.55 37.90,335.00 C38.20,331.45 38.50,330.33 39.10,328.70 C39.70,327.07 40.42,326.18 41.50,325.20 C42.58,324.22 44.03,323.75 45.60,322.80 C47.17,321.85 49.13,320.65 50.90,319.50 C52.67,318.35 54.68,317.07 56.20,315.90 C57.72,314.73 58.25,314.27 60.00,312.50 C61.75,310.73 64.70,307.68 66.70,305.30 C68.70,302.92 69.98,300.83 72.00,298.20 C74.02,295.57 76.57,292.43 78.80,289.50 C81.03,286.57 83.45,282.65 85.40,280.60 C87.35,278.55 89.13,277.90 90.50,277.20 C91.87,276.50 92.62,276.12 93.60,276.40 C94.58,276.68 95.22,277.35 96.40,278.90 C97.58,280.45 99.28,284.00 100.70,285.70 C102.12,287.40 103.35,287.83 104.90,289.10 C106.45,290.37 108.30,291.75 110.00,293.30 C111.70,294.85 113.43,296.90 115.10,298.40 C116.77,299.90 118.35,301.07 120.00,302.30 C121.65,303.53 123.33,304.63 125.00,305.80 C126.67,306.97 128.33,308.32 130.00,309.30 C131.67,310.28 133.18,310.93 135.00,311.70 C136.82,312.47 138.80,313.17 140.90,313.90 C143.00,314.63 145.50,315.67 147.60,316.10 C149.70,316.53 151.90,316.33 153.50,316.50 C155.10,316.67 155.35,317.03 157.20,317.10 C159.05,317.17 162.87,316.63 164.60,316.90 C166.33,317.17 165.92,318.18 167.60,318.70 C169.28,319.22 173.52,319.78 174.70,320.00" fill="none" stroke="#ff5200" stroke-width="1.85" stroke-linejoin="round" stroke-linecap="round" />
<path d="M20.30,321.10 C21.80,321.17 27.23,320.93 29.30,321.50 C31.37,322.07 31.82,323.02 32.70,324.50 C33.58,325.98 34.12,327.20 34.60,330.40 C35.08,333.60 35.43,341.48 35.60,343.70 C35.77,341.48 36.17,333.47 36.60,330.40 C37.03,327.33 37.30,326.57 38.20,325.30 C39.10,324.03 40.52,323.43 42.00,322.80 C43.48,322.17 45.62,321.97 47.10,321.50 C48.58,321.03 48.45,320.70 50.90,320.00 C53.35,319.30 58.53,318.40 61.80,317.30 C65.07,316.20 67.77,314.68 70.50,313.40 C73.23,312.12 75.65,310.95 78.20,309.60 C80.75,308.25 83.62,306.48 85.80,305.30 C87.98,304.12 90.03,303.03 91.30,302.50 C92.57,301.97 92.12,301.80 93.40,302.10 C94.68,302.40 96.93,303.65 99.00,304.30 C101.07,304.95 103.55,305.28 105.80,306.00 C108.05,306.72 110.13,307.75 112.50,308.60 C114.87,309.45 117.97,310.35 120.00,311.10 C122.03,311.85 122.52,312.32 124.70,313.10 C126.88,313.88 129.93,315.10 133.10,315.80 C136.27,316.50 140.17,316.80 143.70,317.30 C147.23,317.80 151.80,318.38 154.30,318.80 C156.80,319.22 156.93,319.70 158.70,319.80 C160.47,319.90 162.23,319.17 164.90,319.40 C167.57,319.63 173.07,320.90 174.70,321.20" fill="none" stroke="#7064b6" stroke-width="1.85" stroke-linejoin="round" stroke-linecap="round" />
<path d="M20.30,319.00 C21.67,319.07 26.43,319.17 28.50,319.40 C30.57,319.63 31.37,320.05 32.70,320.40 C34.03,320.75 35.37,321.52 36.50,321.50 C37.63,321.48 38.02,320.65 39.50,320.30 C40.98,319.95 43.50,319.68 45.40,319.40 C47.30,319.12 48.17,319.05 50.90,318.60 C53.63,318.15 58.17,317.28 61.80,316.70 C65.43,316.12 69.07,315.65 72.70,315.10 C76.33,314.55 80.15,313.85 83.60,313.40 C87.05,312.95 90.83,312.70 93.40,312.40 C95.97,312.10 96.65,311.58 99.00,311.60 C101.35,311.62 104.68,312.17 107.50,312.50 C110.32,312.83 113.40,313.25 115.90,313.60 C118.40,313.95 119.63,314.15 122.50,314.60 C125.37,315.05 129.57,315.85 133.10,316.30 C136.63,316.75 140.92,316.97 143.70,317.30 C146.48,317.63 147.55,318.08 149.80,318.30 C152.05,318.52 155.72,318.47 157.20,318.60 C158.68,318.73 157.58,319.27 158.70,319.10 C159.82,318.93 162.42,317.60 163.90,317.60 C165.38,317.60 165.80,318.73 167.60,319.10 C169.40,319.47 173.52,319.68 174.70,319.80" fill="none" stroke="#fd0c82" stroke-width="1.85" stroke-linejoin="round" stroke-linecap="round" />
</g>
<text x="90.50" y="338.70" font-size="10.3" text-anchor="start" >3393</text>
<text x="22.70" y="434.90" font-size="10.3" text-anchor="start" >3672</text>
<line x1="166.60" y1="246.40" x2="166.60" y2="282.40" stroke="#555" stroke-width="1.0"/>
<line x1="165.40" y1="246.40" x2="167.80" y2="246.40" stroke="#555" stroke-width="1.0"/>
<line x1="165.40" y1="282.40" x2="167.80" y2="282.40" stroke="#555" stroke-width="1.0"/>
<text x="150.30" y="268.20" font-size="10.3" text-anchor="start" >0.2</text>
<line x1="44.40" y1="377.40" x2="69.80" y2="377.40" stroke="#00966a" stroke-width="2.0"/>
<text x="72.30" y="380.80" font-size="10.7" text-anchor="start" >UiO-66-0BA (RT)</text>
<line x1="44.40" y1="390.60" x2="69.80" y2="390.60" stroke="#ff5200" stroke-width="2.0"/>
<text x="72.30" y="394.00" font-size="10.7" text-anchor="start" >UiO-66-0BA (150 <tspan font-size="9.4" dy="0.5" style="stroke-width:0.12px">°</tspan><tspan dy="-0.5" dx="0.1">C</tspan>)</text>
<line x1="44.40" y1="403.90" x2="69.80" y2="403.90" stroke="#7064b6" stroke-width="2.0"/>
<text x="72.30" y="407.30" font-size="10.7" text-anchor="start" >UiO-66-0BA (200 <tspan font-size="9.4" dy="0.5" style="stroke-width:0.12px">°</tspan><tspan dy="-0.5" dx="0.1">C</tspan>)</text>
<line x1="44.40" y1="417.10" x2="69.80" y2="417.10" stroke="#fd0c82" stroke-width="2.0"/>
<text x="72.30" y="420.50" font-size="10.7" text-anchor="start" >UiO-66-0BA (250 <tspan font-size="9.4" dy="0.5" style="stroke-width:0.12px">°</tspan><tspan dy="-0.5" dx="0.1">C</tspan>)</text>
<g clip-path="url(#cb1)">
<path d="M200.50,309.50 C202.53,309.55 210.47,309.80 212.70,309.80 C214.93,309.80 213.63,310.38 213.90,309.50 C214.17,308.62 214.13,305.33 214.30,304.50 C214.47,303.67 214.73,303.67 214.90,304.50 C215.07,305.33 215.15,305.25 215.30,309.50 C215.45,313.75 215.65,318.25 215.80,330.00 C215.95,341.75 216.05,364.63 216.20,380.00 C216.35,395.37 216.62,415.17 216.70,422.20 C216.97,415.17 217.97,395.37 218.30,380.00 C218.63,364.63 218.53,340.33 218.70,330.00 C218.87,319.67 219.02,320.83 219.30,318.00 C219.58,315.17 219.87,314.20 220.40,313.00 C220.93,311.80 221.80,311.33 222.50,310.80 C223.20,310.27 223.40,310.60 224.60,309.80 C225.80,309.00 227.87,307.48 229.70,306.00 C231.53,304.52 233.88,302.73 235.60,300.90 C237.32,299.07 238.70,297.23 240.00,295.00 C241.30,292.77 242.27,290.03 243.40,287.50 C244.53,284.97 245.67,282.22 246.80,279.80 C247.93,277.38 249.07,274.97 250.20,273.00 C251.33,271.03 252.48,269.40 253.60,268.00 C254.72,266.60 255.92,265.60 256.90,264.60 C257.88,263.60 258.65,263.28 259.50,262.00 C260.35,260.72 261.15,258.73 262.00,256.90 C262.85,255.07 263.80,252.27 264.60,251.00 C265.40,249.73 266.10,249.02 266.80,249.30 C267.50,249.58 268.18,250.87 268.80,252.70 C269.42,254.53 269.93,257.62 270.50,260.30 C271.07,262.98 271.63,266.25 272.20,268.80 C272.77,271.35 273.20,273.57 273.90,275.60 C274.60,277.63 275.42,279.43 276.40,281.00 C277.38,282.57 278.52,283.45 279.80,285.00 C281.08,286.55 282.53,288.53 284.10,290.30 C285.67,292.07 287.52,294.08 289.20,295.60 C290.88,297.12 292.40,298.23 294.20,299.40 C296.00,300.57 298.25,301.68 300.00,302.60 C301.75,303.52 302.52,304.08 304.70,304.90 C306.88,305.72 310.28,306.73 313.10,307.50 C315.92,308.27 318.77,309.03 321.60,309.50 C324.43,309.97 327.27,310.13 330.10,310.30 C332.93,310.47 337.02,310.50 338.60,310.50 C340.18,310.50 339.37,311.32 339.60,310.30 C339.83,309.28 339.93,305.38 340.00,304.40 C340.07,304.43 340.33,304.57 340.40,304.60 C340.48,307.22 340.82,317.68 340.90,320.30 C341.00,318.92 341.20,314.12 341.50,312.00 C341.80,309.88 342.12,308.22 342.70,307.60 C343.28,306.98 343.95,308.00 345.00,308.30 C346.05,308.60 347.32,308.98 349.00,309.40 C350.68,309.82 354.08,310.57 355.10,310.80" fill="none" stroke="#00966a" stroke-width="1.85" stroke-linejoin="round" stroke-linecap="round" />
<path d="M200.50,311.50 C202.75,311.50 211.58,310.42 214.00,311.50 C216.42,312.58 214.75,314.92 215.00,318.00 C215.25,321.08 215.38,323.00 215.50,330.00 C215.62,337.00 215.53,350.75 215.70,360.00 C215.87,369.25 216.37,381.25 216.50,385.50 C216.68,381.25 217.35,369.25 217.60,360.00 C217.85,350.75 217.83,336.67 218.00,330.00 C218.17,323.33 218.33,322.42 218.60,320.00 C218.87,317.58 219.20,316.53 219.60,315.50 C220.00,314.47 220.32,314.25 221.00,313.80 C221.68,313.35 222.25,313.47 223.70,312.80 C225.15,312.13 227.72,310.78 229.70,309.80 C231.68,308.82 233.88,307.92 235.60,306.90 C237.32,305.88 238.42,305.53 240.00,303.70 C241.58,301.87 243.40,298.05 245.10,295.90 C246.80,293.75 248.50,292.48 250.20,290.80 C251.90,289.12 253.75,287.35 255.30,285.80 C256.85,284.25 258.10,283.35 259.50,281.50 C260.90,279.65 262.28,276.30 263.70,274.70 C265.12,273.10 266.72,272.03 268.00,271.90 C269.28,271.77 270.28,272.87 271.40,273.90 C272.52,274.93 273.58,276.40 274.70,278.10 C275.82,279.80 276.82,282.07 278.10,284.10 C279.38,286.13 280.83,288.38 282.40,290.30 C283.97,292.22 285.53,293.95 287.50,295.60 C289.47,297.25 292.12,298.87 294.20,300.20 C296.28,301.53 298.25,302.65 300.00,303.60 C301.75,304.55 302.52,305.10 304.70,305.90 C306.88,306.70 310.28,307.72 313.10,308.40 C315.92,309.08 318.77,309.67 321.60,310.00 C324.43,310.33 327.10,310.28 330.10,310.40 C333.10,310.52 337.95,311.23 339.60,310.70 C341.25,310.17 339.93,307.78 340.00,307.20 C340.07,307.25 340.33,307.45 340.40,307.50 C340.48,309.42 340.82,317.08 340.90,319.00 C341.00,317.92 341.15,313.87 341.50,312.50 C341.85,311.13 340.73,311.02 343.00,310.80 C345.27,310.58 353.08,311.13 355.10,311.20" fill="none" stroke="#ff5200" stroke-width="1.85" stroke-linejoin="round" stroke-linecap="round" />
<path d="M200.50,311.00 C202.83,311.03 212.00,310.37 214.50,311.20 C217.00,312.03 215.22,314.60 215.50,316.00 C215.78,317.40 216.08,319.00 216.20,319.60 C216.33,318.83 216.62,316.35 217.00,315.00 C217.38,313.65 216.75,312.17 218.50,311.50 C220.25,310.83 223.92,311.33 227.50,311.00 C231.08,310.67 236.25,310.25 240.00,309.50 C243.75,308.75 247.18,307.35 250.00,306.50 C252.82,305.65 254.33,305.32 256.90,304.40 C259.47,303.48 263.13,301.85 265.40,301.00 C267.67,300.15 269.17,299.63 270.50,299.30 C271.83,298.97 272.27,298.72 273.40,299.00 C274.53,299.28 275.80,300.15 277.30,301.00 C278.80,301.85 280.15,303.25 282.40,304.10 C284.65,304.95 287.87,305.48 290.80,306.10 C293.73,306.72 296.80,307.30 300.00,307.80 C303.20,308.30 307.10,308.82 310.00,309.10 C312.90,309.38 312.63,309.27 317.40,309.50 C322.17,309.73 334.87,310.32 338.60,310.50 C342.33,310.68 339.42,309.60 339.80,310.60 C340.18,311.60 340.72,315.52 340.90,316.50 C341.02,315.58 339.23,311.92 341.60,311.00 C343.97,310.08 352.85,311.00 355.10,311.00" fill="none" stroke="#7064b6" stroke-width="1.85" stroke-linejoin="round" stroke-linecap="round" />
<path d="M200.50,311.10 C202.42,311.10 209.42,310.75 212.00,311.10 C214.58,311.45 214.67,313.13 216.00,313.20 C217.33,313.27 217.37,311.87 220.00,311.50 C222.63,311.13 228.47,311.28 231.80,311.00 C235.13,310.72 236.97,310.20 240.00,309.80 C243.03,309.40 247.18,309.07 250.00,308.60 C252.82,308.13 254.33,307.55 256.90,307.00 C259.47,306.45 262.65,305.88 265.40,305.30 C268.15,304.72 271.13,303.50 273.40,303.50 C275.67,303.50 276.10,304.72 279.00,305.30 C281.90,305.88 287.30,306.45 290.80,307.00 C294.30,307.55 296.80,308.08 300.00,308.60 C303.20,309.12 307.10,309.82 310.00,310.10 C312.90,310.38 312.63,310.20 317.40,310.30 C322.17,310.40 334.87,310.62 338.60,310.70 C342.33,310.78 339.42,310.08 339.80,310.80 C340.18,311.52 340.72,314.30 340.90,315.00 C341.02,314.33 339.23,311.63 341.60,311.00 C343.97,310.37 352.85,311.17 355.10,311.20" fill="none" stroke="#fd0c82" stroke-width="1.85" stroke-linejoin="round" stroke-linecap="round" />
</g>
<text x="266.90" y="337.90" font-size="10.3" text-anchor="start" >3393</text>
<text x="202.40" y="435.10" font-size="10.3" text-anchor="start" >3672</text>
<line x1="346.60" y1="252.30" x2="346.60" y2="282.40" stroke="#555" stroke-width="1.0"/>
<line x1="345.40" y1="252.30" x2="347.80" y2="252.30" stroke="#555" stroke-width="1.0"/>
<line x1="345.40" y1="282.40" x2="347.80" y2="282.40" stroke="#555" stroke-width="1.0"/>
<text x="330.30" y="271.80" font-size="10.3" text-anchor="start" >0.2</text>
<line x1="219.50" y1="377.80" x2="244.20" y2="377.80" stroke="#00966a" stroke-width="2.0"/>
<text x="247.00" y="381.20" font-size="10.7" text-anchor="start" >UiO-66-10BA (RT)</text>
<line x1="219.50" y1="390.80" x2="244.20" y2="390.80" stroke="#ff5200" stroke-width="2.0"/>
<text x="247.00" y="394.20" font-size="10.7" text-anchor="start" >UiO-66-10BA (150 <tspan font-size="9.4" dy="0.5" style="stroke-width:0.12px">°</tspan><tspan dy="-0.5" dx="0.1">C</tspan>)</text>
<line x1="219.50" y1="404.10" x2="244.20" y2="404.10" stroke="#7064b6" stroke-width="2.0"/>
<text x="247.00" y="407.50" font-size="10.7" text-anchor="start" >UiO-66-10BA (200 <tspan font-size="9.4" dy="0.5" style="stroke-width:0.12px">°</tspan><tspan dy="-0.5" dx="0.1">C</tspan>)</text>
<line x1="219.50" y1="417.20" x2="244.20" y2="417.20" stroke="#fd0c82" stroke-width="2.0"/>
<text x="247.00" y="420.60" font-size="10.7" text-anchor="start" >UiO-66-10BA (250 <tspan font-size="9.4" dy="0.5" style="stroke-width:0.12px">°</tspan><tspan dy="-0.5" dx="0.1">C</tspan>)</text>
<g clip-path="url(#cb2)">
<path d="M381.70,338.80 L382.18,338.78 L382.78,338.94 L383.49,339.35 L384.30,339.05 L385.18,339.22 L386.12,339.42 L387.10,339.18 L388.11,339.60 L389.13,339.80 L390.14,340.02 L391.12,339.42 L392.07,339.60 L392.96,339.35 L393.77,339.88 L394.49,339.59 L395.11,338.74 L395.60,339.23 L396.00,338.72 L396.30,337.81 L396.52,337.03 L396.66,335.77 L396.74,334.72 L396.76,334.19 L396.74,332.75 L396.68,331.82 L396.60,330.82 L396.49,329.61 L396.39,329.02 L396.28,328.07 L396.19,327.58 L396.12,326.54 L396.09,326.02 L396.10,325.40 L396.70,325.55 L396.74,325.78 L396.77,326.05 L396.81,327.15 L396.85,327.63 L396.88,328.01 L396.92,328.46 L396.96,328.72 L396.99,329.31 L397.03,330.11 L397.07,330.72 L397.10,332.24 L397.14,332.90 L397.17,334.38 L397.21,335.15 L397.24,336.96 L397.27,338.27 L397.30,339.05 L397.31,339.79 L397.32,341.00 L397.33,341.20 L397.34,342.27 L397.35,342.38 L397.36,342.73 L397.37,343.90 L397.37,344.71 L397.38,344.95 L397.39,345.50 L397.40,346.45 L397.41,347.75 L397.42,348.32 L397.42,348.51 L397.43,349.40 L397.44,350.06 L397.45,350.82 L397.45,352.30 L397.46,352.56 L397.47,353.73 L397.48,354.47 L397.48,355.08 L397.49,356.43 L397.50,356.74 L397.51,358.07 L397.51,358.47 L397.52,359.62 L397.53,360.32 L397.54,361.26 L397.54,362.78 L397.55,363.52 L397.56,363.96 L397.56,365.38 L397.57,365.68 L397.58,366.74 L397.59,368.05 L397.59,368.76 L397.60,369.17 L397.61,370.86 L397.62,371.06 L397.62,371.99 L397.63,373.34 L397.64,373.82 L397.65,374.67 L397.66,375.35 L397.67,376.23 L397.67,377.53 L397.68,378.08 L397.69,379.25 L397.70,379.88 L397.71,380.75 L397.72,382.02 L397.73,382.42 L397.74,383.34 L397.75,384.46 L397.75,384.72 L397.76,385.57 L397.77,387.14 L397.79,387.96 L397.80,388.35 L397.81,389.22 L397.82,390.63 L397.83,391.75 L397.84,392.01 L397.85,393.63 L397.86,394.51 L397.87,395.20 L397.88,395.99 L397.89,396.65 L397.90,397.53 L397.91,399.31 L397.93,399.60 L397.94,400.96 L397.95,401.50 L397.96,402.94 L397.97,403.66 L397.98,404.30 L397.99,405.11 L398.00,406.50 L398.01,406.81 L398.02,407.83 L398.03,409.00 L398.04,410.13 L398.05,410.76 L398.06,411.29 L398.07,412.68 L398.08,412.84 L398.09,413.45 L398.10,414.44 L398.11,415.35 L398.12,415.73 L398.13,416.54 L398.14,417.40 L398.14,418.25 L398.15,418.49 L398.16,419.32 L398.17,420.38 L398.17,421.03 L398.18,421.28 L398.18,421.82 L398.19,422.20 L398.20,422.26 L398.20,422.58 L398.21,422.14 L398.23,422.49 L398.25,421.81 L398.26,421.52 L398.28,420.12 L398.30,420.08 L398.32,419.33 L398.34,418.91 L398.37,417.87 L398.39,417.79 L398.41,416.24 L398.44,415.92 L398.46,415.33 L398.49,414.69 L398.52,413.74 L398.55,412.89 L398.57,412.13 L398.60,411.38 L398.63,410.01 L398.66,409.42 L398.69,408.72 L398.72,407.78 L398.75,406.45 L398.78,405.86 L398.82,404.99 L398.85,403.79 L398.88,402.89 L398.91,401.72 L398.94,400.94 L398.97,400.01 L399.01,398.57 L399.04,398.12 L399.07,397.48 L399.10,396.42 L399.13,395.34 L399.16,394.08 L399.19,393.46 L399.22,392.39 L399.25,391.34 L399.28,390.78 L399.31,389.20 L399.34,388.91 L399.37,387.38 L399.39,387.03 L399.42,386.07 L399.44,385.02 L399.47,384.62 L399.49,383.65 L399.52,382.98 L399.54,382.50 L399.56,381.17 L399.58,380.24 L399.60,379.82 L399.63,379.15 L399.65,377.72 L399.68,376.69 L399.70,376.37 L399.73,375.17 L399.75,374.01 L399.77,373.46 L399.79,372.00 L399.81,371.37 L399.82,370.02 L399.84,369.32 L399.86,368.75 L399.87,367.96 L399.89,367.05 L399.90,365.74 L399.92,365.07 L399.93,364.00 L399.94,363.01 L399.96,362.53 L399.97,362.05 L399.98,361.28 L400.00,360.40 L400.01,359.87 L400.02,358.54 L400.04,357.73 L400.05,357.30 L400.07,356.47 L400.08,355.76 L400.10,355.30 L400.11,354.88 L400.13,354.17 L400.14,353.43 L400.16,353.35 L400.18,352.94 L400.20,351.96 L400.29,349.72 L400.37,348.28 L400.45,348.03 L400.54,346.57 L400.64,346.66 L400.75,346.10 L400.87,345.41 L401.00,345.26 L401.23,343.62 L401.48,342.97 L401.77,342.60 L402.10,341.55 L402.50,341.50 L402.84,340.32 L403.22,339.55 L403.63,338.76 L404.07,338.56 L404.52,337.67 L404.96,337.12 L405.40,336.44 L405.82,335.89 L406.24,335.34 L406.65,334.41 L407.08,333.29 L407.52,332.87 L407.99,331.95 L408.50,331.16 L409.04,330.99 L409.61,330.68 L410.21,329.69 L410.82,329.26 L411.46,328.76 L412.12,328.44 L412.80,327.52 L413.25,327.05 L413.72,326.59 L414.20,325.63 L414.70,325.33 L415.20,324.74 L415.71,323.30 L416.21,323.33 L416.71,322.41 L417.19,321.14 L417.66,320.69 L418.10,320.11 L418.53,319.64 L418.95,318.42 L419.37,317.85 L419.77,317.37 L420.17,316.53 L420.55,315.89 L420.93,314.68 L421.29,314.06 L421.64,312.86 L421.98,312.52 L422.30,311.79 L422.57,310.87 L422.82,310.19 L423.04,308.97 L423.24,308.82 L423.44,308.12 L423.63,307.34 L423.82,306.14 L424.02,305.57 L424.23,304.32 L424.46,304.01 L424.72,303.10 L425.00,301.76 L425.25,300.79 L425.51,300.36 L425.79,299.67 L426.07,299.06 L426.37,297.98 L426.68,296.74 L426.99,296.61 L427.30,295.10 L427.62,294.94 L427.94,293.55 L428.26,292.90 L428.58,292.52 L428.89,291.19 L429.20,290.47 L429.50,290.11 L429.90,289.40 L430.30,288.64 L430.70,287.65 L431.10,287.06 L431.50,285.87 L431.90,285.52 L432.30,284.03 L432.70,283.46 L433.10,283.09 L433.50,282.27 L433.90,282.11 L434.55,281.27 L435.23,280.56 L435.91,280.35 L436.58,279.66 L437.23,279.01 L437.84,278.62 L438.40,278.51 L438.97,277.87 L439.48,276.55 L439.94,276.40 L440.39,275.75 L440.83,274.56 L441.30,273.77 L441.68,272.74 L442.06,272.30 L442.45,271.48 L442.84,270.78 L443.23,269.47 L443.60,269.55 L443.96,268.44 L444.30,267.71 L444.80,267.19 L445.25,266.18 L445.68,265.43 L446.09,265.03 L446.50,264.01 L447.46,263.77 L448.40,263.72 L448.92,264.50 L449.45,264.93 L449.98,265.05 L450.50,266.28 L450.72,266.55 L450.93,267.50 L451.13,268.58 L451.34,269.45 L451.54,269.92 L451.74,270.67 L451.95,271.48 L452.17,272.83 L452.40,274.08 L452.56,274.07 L452.73,275.40 L452.89,275.50 L453.06,276.45 L453.23,277.30 L453.40,278.55 L453.58,279.07 L453.75,279.94 L453.93,281.02 L454.12,281.39 L454.31,282.76 L454.50,283.00 L454.70,284.11 L454.94,284.74 L455.17,285.54 L455.40,286.66 L455.64,287.39 L455.89,288.14 L456.14,288.96 L456.40,289.85 L456.68,290.31 L456.97,291.14 L457.27,292.31 L457.60,293.12 L457.92,293.78 L458.26,294.85 L458.63,295.43 L459.00,296.45 L459.39,296.69 L459.79,297.94 L460.19,298.78 L460.59,299.61 L460.98,299.81 L461.37,300.50 L461.74,301.69 L462.10,301.65 L462.69,303.24 L463.26,303.89 L463.81,303.87 L464.35,304.56 L464.90,305.56 L465.44,305.70 L466.00,306.14 L466.56,307.39 L467.11,307.57 L467.67,308.44 L468.22,308.38 L468.80,309.18 L469.39,310.02 L470.00,310.07 L470.50,310.79 L471.01,311.82 L471.54,312.66 L472.08,313.36 L472.63,313.24 L473.18,314.24 L473.72,315.10 L474.27,315.46 L474.80,316.17 L475.48,316.36 L476.15,316.86 L476.82,317.46 L477.48,317.94 L478.15,318.91 L478.82,319.35 L479.50,319.86 L480.29,319.98 L481.09,320.48 L481.89,320.92 L482.70,321.89 L483.50,322.39 L484.30,322.68 L485.10,322.26 L485.90,322.51 L486.70,323.58 L487.50,323.38 L488.30,323.89 L489.10,323.74 L489.90,324.12 L490.70,324.41 L491.51,324.58 L492.31,324.97 L493.11,324.66 L493.90,325.48 L494.84,325.82 L495.78,325.40 L496.72,325.82 L497.66,326.24 L498.60,326.11 L499.39,326.09 L500.19,326.24 L500.99,326.72 L501.80,326.45 L502.60,327.40 L503.40,327.47 L504.20,327.52 L505.00,327.79 L505.81,327.70 L506.61,327.61 L507.41,327.89 L508.20,327.90 L509.14,328.43 L510.08,328.34 L511.02,327.91 L511.96,328.57 L512.90,328.52 L513.71,328.66 L514.56,328.83 L515.40,328.61 L516.22,329.20 L517.00,329.32 L517.70,329.28 L518.95,329.90 L520.01,330.42 L520.80,329.52 L520.95,329.28 L521.07,327.98 L521.16,327.35 L521.23,326.48 L521.28,325.02 L521.32,324.25 L521.35,323.45 L521.37,322.45 L521.41,321.22 L521.45,321.13 L521.50,320.35 L522.20,320.25 L522.28,321.12 L522.36,321.88 L522.44,322.84 L522.51,323.77 L522.59,325.36 L522.68,325.97 L522.78,326.75 L522.90,327.24 L523.14,327.10 L523.44,324.89 L524.20,324.60 L524.74,324.78 L525.40,324.56 L526.15,325.01 L526.97,325.08 L527.84,325.64 L528.72,326.22 L529.60,326.34 L530.33,326.75 L531.15,327.65 L532.01,327.65 L532.90,327.93 L533.77,328.66 L534.59,328.60 L535.32,329.25 L535.94,329.15 L536.40,329.20" fill="none" stroke="#00966a" stroke-width="1.85" stroke-linejoin="round" stroke-linecap="round"/>
<path d="M381.70,338.80 L382.18,339.19 L382.78,339.25 L383.49,339.24 L384.29,338.57 L385.17,339.09 L386.11,339.01 L387.09,339.17 L388.09,338.87 L389.11,338.97 L390.12,339.23 L391.10,339.05 L392.05,339.26 L392.94,338.84 L393.75,338.83 L394.48,339.30 L395.10,338.91 L395.60,338.81 L396.33,338.39 L396.72,337.13 L396.86,335.75 L396.81,335.23 L396.67,333.93 L396.50,333.05 L396.38,332.35 L396.40,332.42 L396.51,331.91 L396.63,332.41 L396.75,332.36 L396.88,333.09 L396.99,334.01 L397.11,334.90 L397.21,336.32 L397.30,338.78 L397.32,339.50 L397.33,339.91 L397.35,340.33 L397.36,341.08 L397.37,341.27 L397.39,341.89 L397.40,342.67 L397.41,343.78 L397.42,343.91 L397.44,344.54 L397.45,345.25 L397.46,345.94 L397.47,346.91 L397.48,347.96 L397.49,348.97 L397.49,349.33 L397.50,350.19 L397.51,350.95 L397.52,351.80 L397.53,353.08 L397.54,353.74 L397.55,354.35 L397.55,355.10 L397.56,356.60 L397.57,357.43 L397.58,358.44 L397.59,358.81 L397.59,360.00 L397.60,361.25 L397.61,361.87 L397.62,363.11 L397.63,363.32 L397.64,364.97 L397.65,365.06 L397.66,366.30 L397.67,366.86 L397.68,368.48 L397.69,369.27 L397.70,370.43 L397.71,371.01 L397.72,371.91 L397.73,372.32 L397.74,373.52 L397.75,374.13 L397.76,374.60 L397.77,376.02 L397.78,376.35 L397.79,377.07 L397.81,377.86 L397.82,379.11 L397.83,379.78 L397.84,381.37 L397.85,382.31 L397.87,382.58 L397.88,383.42 L397.89,384.75 L397.90,385.37 L397.91,386.65 L397.93,387.83 L397.94,388.27 L397.95,389.36 L397.96,390.73 L397.97,391.25 L397.99,392.08 L398.00,393.49 L398.01,394.33 L398.02,395.29 L398.03,395.99 L398.04,396.61 L398.06,397.72 L398.07,398.69 L398.08,399.34 L398.09,399.78 L398.10,400.62 L398.11,401.49 L398.12,402.56 L398.13,403.09 L398.14,403.78 L398.14,404.70 L398.15,404.69 L398.16,405.78 L398.17,406.10 L398.18,406.86 L398.18,407.63 L398.19,407.60 L398.19,408.69 L398.20,408.32 L398.21,408.33 L398.23,407.85 L398.25,407.07 L398.27,406.82 L398.28,406.16 L398.31,405.53 L398.33,405.12 L398.35,403.80 L398.37,403.43 L398.40,403.07 L398.42,401.72 L398.45,401.59 L398.48,400.18 L398.51,399.78 L398.53,398.48 L398.56,397.85 L398.59,396.94 L398.62,395.74 L398.65,395.38 L398.68,394.25 L398.72,393.50 L398.75,392.42 L398.78,391.48 L398.81,390.50 L398.84,389.33 L398.88,388.91 L398.91,387.21 L398.94,386.96 L398.97,385.98 L399.01,384.70 L399.04,383.99 L399.07,382.96 L399.10,381.96 L399.13,380.75 L399.16,379.86 L399.19,378.99 L399.22,378.06 L399.25,377.79 L399.28,376.39 L399.31,375.60 L399.34,374.82 L399.36,374.40 L399.39,373.33 L399.41,372.67 L399.44,371.70 L399.46,371.05 L399.48,370.24 L399.50,369.75 L399.54,368.53 L399.58,367.86 L399.62,366.40 L399.65,364.95 L399.68,364.23 L399.71,362.93 L399.73,362.39 L399.76,361.37 L399.78,360.89 L399.80,359.53 L399.82,359.27 L399.85,357.98 L399.87,357.92 L399.89,356.91 L399.91,355.71 L399.93,355.76 L399.96,354.66 L399.98,354.14 L400.01,353.36 L400.04,353.41 L400.07,352.18 L400.10,352.21 L400.21,350.40 L400.32,349.50 L400.43,348.27 L400.56,347.39 L400.69,347.56 L400.84,346.76 L401.00,345.70 L401.30,345.37 L401.62,344.43 L402.01,343.00 L402.50,342.07 L402.92,342.05 L403.34,341.19 L403.85,341.27 L404.51,340.40 L405.40,339.69 L405.82,339.10 L406.28,338.78 L406.78,338.28 L407.31,337.50 L407.87,336.88 L408.45,336.00 L409.05,335.16 L409.67,334.43 L410.29,334.42 L410.93,333.12 L411.56,332.59 L412.18,331.76 L412.80,331.31 L413.31,330.62 L413.84,330.28 L414.39,329.23 L414.96,328.48 L415.54,328.04 L416.12,327.42 L416.70,326.86 L417.28,325.59 L417.85,325.40 L418.42,324.78 L418.96,324.09 L419.49,322.65 L419.99,322.23 L420.46,321.97 L420.90,321.44 L421.30,320.19 L421.98,319.57 L422.51,319.11 L422.94,318.50 L423.31,317.70 L423.66,316.80 L424.03,316.29 L424.47,315.14 L425.00,314.33 L425.29,313.86 L425.59,313.59 L425.91,312.71 L426.23,311.85 L426.57,310.96 L426.92,310.25 L427.27,309.79 L427.63,308.79 L427.99,307.73 L428.35,307.51 L428.72,306.48 L429.09,306.04 L429.46,304.87 L429.82,304.19 L430.19,303.28 L430.55,302.75 L430.90,302.38 L431.35,301.64 L431.80,300.61 L432.25,299.71 L432.69,298.72 L433.14,298.79 L433.58,297.76 L434.03,297.14 L434.49,296.22 L434.95,295.55 L435.42,295.20 L435.90,295.01 L436.39,294.04 L436.90,293.19 L437.26,292.54 L437.63,291.54 L438.01,290.77 L438.39,290.45 L438.79,289.23 L439.18,288.95 L439.59,288.12 L439.99,287.37 L440.40,286.21 L440.81,285.39 L441.22,284.98 L441.62,283.93 L442.03,283.63 L442.42,282.62 L442.82,282.20 L443.20,281.66 L443.58,280.91 L443.94,280.26 L444.30,279.43 L444.97,278.64 L445.64,278.35 L446.30,276.94 L446.95,276.25 L447.57,275.81 L448.18,275.30 L448.75,275.03 L449.28,274.16 L449.77,274.41 L450.20,273.27 L451.43,273.66 L452.40,274.56 L452.79,275.26 L453.22,275.06 L453.68,276.07 L454.16,276.90 L454.66,277.33 L455.17,277.58 L455.69,279.15 L456.20,280.12 L456.50,279.93 L456.80,281.22 L457.10,281.22 L457.41,281.94 L457.72,283.34 L458.04,284.04 L458.36,285.05 L458.68,285.56 L459.00,286.26 L459.32,286.84 L459.64,287.91 L459.96,289.06 L460.28,289.51 L460.60,290.44 L460.94,290.58 L461.28,291.82 L461.62,292.55 L461.96,292.69 L462.31,294.09 L462.65,294.24 L462.99,294.99 L463.34,295.56 L463.68,296.82 L464.03,297.06 L464.38,298.51 L464.74,298.34 L465.10,299.78 L465.49,300.51 L465.89,301.13 L466.30,301.93 L466.71,302.94 L467.12,303.60 L467.53,303.94 L467.95,305.31 L468.36,305.67 L468.77,306.61 L469.18,307.24 L469.59,308.25 L470.00,308.42 L470.61,309.65 L471.21,309.69 L471.81,310.58 L472.41,311.50 L473.01,312.03 L473.61,312.78 L474.21,312.77 L474.80,313.87 L475.48,314.52 L476.15,314.57 L476.82,315.19 L477.48,316.19 L478.15,317.13 L478.82,317.36 L479.50,317.74 L480.18,318.32 L480.86,319.09 L481.55,319.31 L482.24,319.78 L482.93,320.27 L483.61,320.99 L484.30,321.27 L485.10,321.73 L485.90,321.59 L486.70,322.24 L487.50,322.78 L488.30,323.03 L489.10,323.61 L489.90,323.97 L490.70,323.66 L491.51,324.41 L492.31,324.69 L493.11,324.95 L493.90,325.60 L494.69,326.41 L495.47,326.59 L496.25,326.36 L497.03,326.84 L497.81,327.28 L498.60,328.05 L499.39,327.93 L500.19,327.89 L500.99,328.46 L501.80,328.38 L502.60,328.39 L503.40,329.08 L504.20,329.64 L505.00,329.64 L505.81,329.79 L506.61,329.44 L507.41,329.99 L508.20,330.22 L509.14,330.52 L510.08,330.42 L511.02,330.24 L511.96,331.20 L512.90,330.79 L513.71,331.35 L514.54,331.22 L515.37,331.63 L516.19,331.38 L516.97,331.36 L517.70,331.94 L518.54,332.57 L519.35,333.66 L520.10,334.12 L520.77,334.94 L521.30,334.79 L521.59,334.71 L521.75,333.43 L521.84,333.07 L521.91,332.08 L522.05,330.29 L522.30,330.32 L522.92,329.52 L523.69,328.90 L524.52,328.07 L525.30,328.61 L525.86,329.02 L526.31,329.62 L526.93,330.75 L528.00,331.40 L528.65,331.32 L529.45,331.78 L530.37,331.26 L531.35,331.57 L532.37,331.94 L533.37,332.08 L534.32,332.60 L535.17,332.44 L535.87,332.52 L536.40,332.50" fill="none" stroke="#ff5200" stroke-width="1.85" stroke-linejoin="round" stroke-linecap="round"/>
<path d="M381.70,342.30 L382.18,342.48 L382.78,342.01 L383.49,342.56 L384.29,342.86 L385.17,342.97 L386.11,342.80 L387.09,343.02 L388.09,342.89 L389.11,343.12 L390.12,342.80 L391.10,343.35 L392.05,343.27 L392.94,342.93 L393.75,342.91 L394.48,343.06 L395.10,342.56 L395.60,342.71 L396.03,342.22 L396.36,341.42 L396.60,339.92 L396.75,338.95 L396.83,338.11 L396.86,337.09 L396.84,336.29 L396.78,335.30 L396.70,334.00 L396.61,333.09 L396.52,332.16 L396.44,330.94 L396.39,330.81 L396.37,330.17 L396.40,330.23 L396.46,329.93 L396.52,330.72 L396.58,331.28 L396.65,330.98 L396.71,332.01 L396.78,332.19 L396.84,333.26 L396.91,333.96 L396.97,335.54 L397.03,336.45 L397.09,337.71 L397.15,338.26 L397.20,339.93 L397.25,341.17 L397.30,342.31 L397.32,343.27 L397.34,343.62 L397.35,343.94 L397.37,344.97 L397.38,345.42 L397.40,345.86 L397.41,346.92 L397.43,347.12 L397.44,348.21 L397.45,349.04 L397.46,349.30 L397.47,350.65 L397.48,350.92 L397.50,352.22 L397.51,352.75 L397.52,353.29 L397.52,354.99 L397.53,354.99 L397.54,355.93 L397.55,357.10 L397.56,357.74 L397.57,358.88 L397.58,359.72 L397.59,360.71 L397.60,361.59 L397.61,362.28 L397.62,363.12 L397.63,364.49 L397.64,365.18 L397.65,366.21 L397.66,367.51 L397.67,367.64 L397.69,368.84 L397.70,370.06 L397.71,370.31 L397.72,371.67 L397.73,372.11 L397.74,372.81 L397.75,373.50 L397.76,375.02 L397.77,375.02 L397.79,376.57 L397.80,377.34 L397.81,378.39 L397.82,379.11 L397.83,379.69 L397.84,380.79 L397.86,382.05 L397.87,382.19 L397.88,383.85 L397.89,384.63 L397.91,385.14 L397.92,386.78 L397.93,387.12 L397.94,387.80 L397.96,388.97 L397.97,390.13 L397.98,390.62 L397.99,392.05 L398.01,392.83 L398.02,393.63 L398.03,394.91 L398.04,395.66 L398.05,396.84 L398.06,397.61 L398.07,398.43 L398.08,399.32 L398.10,400.04 L398.11,400.49 L398.12,400.87 L398.12,401.94 L398.13,402.80 L398.14,403.79 L398.15,404.16 L398.16,404.71 L398.17,404.87 L398.17,405.94 L398.18,405.91 L398.19,406.50 L398.19,406.87 L398.20,407.91 L398.21,407.67 L398.23,406.90 L398.25,405.94 L398.27,405.98 L398.29,404.89 L398.31,404.75 L398.33,404.07 L398.35,403.63 L398.38,402.22 L398.40,401.54 L398.43,400.85 L398.46,399.84 L398.48,399.80 L398.51,398.67 L398.54,397.35 L398.57,396.81 L398.60,395.57 L398.63,395.45 L398.67,393.98 L398.70,392.73 L398.73,392.45 L398.76,391.13 L398.80,390.46 L398.83,389.62 L398.86,388.02 L398.90,387.48 L398.93,386.88 L398.96,385.27 L398.99,384.34 L399.03,383.77 L399.06,382.27 L399.09,382.02 L399.12,381.08 L399.16,380.30 L399.19,379.30 L399.22,378.20 L399.25,377.23 L399.28,376.45 L399.30,375.72 L399.33,375.23 L399.36,373.71 L399.38,373.27 L399.41,372.52 L399.43,371.64 L399.46,370.91 L399.48,370.84 L399.50,370.08 L399.55,368.87 L399.59,367.26 L399.63,366.31 L399.66,364.94 L399.69,363.93 L399.72,362.96 L399.75,362.53 L399.78,361.87 L399.80,360.83 L399.82,360.27 L399.85,358.93 L399.87,358.65 L399.90,357.67 L399.92,357.40 L399.95,356.56 L399.97,355.99 L400.00,356.03 L400.03,355.14 L400.06,354.32 L400.10,353.99 L400.21,352.40 L400.32,351.75 L400.43,350.51 L400.56,350.18 L400.69,349.33 L400.84,348.77 L401.00,348.10 L401.30,347.00 L401.62,345.64 L402.01,345.51 L402.50,344.60 L403.09,343.59 L403.76,343.28 L404.52,343.11 L405.40,342.14 L405.98,341.55 L406.64,340.98 L407.35,339.98 L408.07,339.75 L408.77,339.09 L409.42,338.69 L410.00,337.88 L410.58,337.08 L410.98,337.29 L411.36,336.26 L411.90,335.49 L412.80,334.44 L413.14,334.44 L413.52,333.71 L413.94,332.64 L414.40,331.99 L414.88,331.71 L415.39,330.64 L415.91,330.09 L416.45,329.26 L416.99,329.20 L417.54,328.48 L418.08,327.71 L418.61,326.77 L419.13,325.47 L419.62,324.96 L420.10,324.75 L420.53,323.36 L420.94,323.12 L421.30,322.77 L421.77,321.42 L422.17,320.69 L422.51,320.18 L422.81,319.45 L423.07,318.28 L423.31,318.14 L423.55,316.78 L423.78,316.10 L424.03,315.47 L424.31,314.55 L424.63,313.90 L425.00,312.87 L425.27,312.53 L425.56,311.90 L425.85,311.11 L426.16,310.42 L426.48,309.07 L426.80,308.62 L427.13,307.91 L427.47,307.11 L427.81,305.89 L428.15,305.48 L428.50,304.16 L428.84,303.81 L429.19,302.80 L429.54,301.46 L429.89,301.47 L430.23,300.60 L430.57,299.70 L430.90,299.41 L431.36,298.49 L431.83,297.59 L432.31,296.78 L432.79,295.99 L433.27,294.73 L433.75,294.46 L434.23,293.28 L434.70,293.09 L435.17,292.16 L435.62,292.03 L436.06,291.63 L436.49,290.41 L436.90,290.16 L437.47,289.11 L438.01,289.00 L438.54,287.88 L439.04,286.94 L439.53,286.73 L440.00,285.95 L440.45,285.39 L440.88,284.70 L441.30,283.79 L441.74,283.01 L442.15,282.71 L442.53,281.55 L442.89,281.04 L443.24,280.47 L443.58,279.93 L443.93,278.63 L444.30,278.09 L444.68,277.09 L445.07,276.41 L445.46,276.25 L445.85,275.23 L446.23,273.86 L446.61,273.96 L446.96,272.72 L447.30,272.36 L448.07,271.31 L448.74,269.94 L449.50,269.81 L450.02,270.15 L450.57,271.03 L451.14,272.19 L451.75,272.41 L452.40,274.12 L452.83,274.38 L453.27,274.91 L453.73,275.20 L454.21,276.47 L454.69,276.65 L455.19,278.15 L455.69,278.52 L456.20,279.99 L456.50,280.54 L456.80,280.85 L457.10,281.47 L457.41,282.46 L457.72,283.12 L458.04,283.85 L458.36,285.16 L458.68,285.37 L459.00,286.18 L459.32,287.33 L459.64,287.84 L459.96,288.44 L460.28,289.32 L460.60,289.75 L460.97,290.60 L461.34,291.96 L461.71,292.42 L462.08,293.16 L462.45,293.91 L462.82,294.40 L463.19,295.08 L463.57,295.70 L463.94,296.94 L464.33,297.40 L464.71,298.44 L465.10,298.84 L465.53,300.04 L465.97,300.96 L466.41,301.25 L466.86,302.27 L467.31,302.64 L467.76,303.80 L468.21,304.27 L468.66,305.15 L469.11,306.19 L469.56,306.90 L470.00,307.12 L470.61,308.16 L471.21,308.77 L471.81,309.28 L472.41,309.64 L473.01,310.21 L473.61,310.88 L474.21,311.72 L474.80,312.21 L475.39,312.74 L475.98,313.46 L476.57,314.11 L477.15,315.09 L477.73,315.73 L478.32,316.31 L478.91,316.68 L479.50,316.79 L480.10,318.07 L480.69,318.60 L481.29,318.57 L481.89,319.24 L482.50,319.98 L483.10,320.28 L483.70,321.48 L484.30,321.62 L485.10,322.12 L485.90,322.33 L486.70,322.92 L487.50,323.49 L488.30,324.12 L489.10,324.16 L489.90,324.66 L490.70,325.00 L491.51,325.54 L492.31,325.79 L493.11,326.10 L493.90,326.76 L494.69,327.41 L495.47,327.79 L496.25,328.11 L497.03,327.88 L497.81,328.72 L498.60,328.27 L499.39,328.66 L500.19,328.87 L500.99,329.49 L501.80,329.40 L502.60,329.67 L503.40,329.76 L504.20,330.52 L505.00,330.71 L505.81,330.80 L506.61,331.18 L507.41,331.63 L508.20,331.91 L509.14,331.46 L510.08,332.21 L511.02,332.16 L511.96,332.41 L512.90,332.08 L513.71,332.95 L514.54,332.51 L515.37,332.37 L516.19,332.89 L516.97,332.93 L517.70,333.60 L518.40,334.10 L519.09,335.11 L519.74,336.07 L520.34,336.79 L520.87,336.90 L521.30,337.01 L521.52,336.58 L521.67,336.03 L521.79,334.98 L521.86,333.86 L521.92,332.48 L521.97,331.51 L522.02,330.45 L522.10,330.07 L522.20,329.81 L522.23,329.74 L522.10,330.55 L522.35,331.82 L523.50,333.43 L524.01,333.53 L524.65,333.54 L525.39,333.68 L526.21,333.46 L527.11,333.70 L528.05,333.54 L529.04,333.17 L530.03,333.66 L531.02,334.09 L532.00,333.57 L532.93,333.86 L533.81,333.39 L534.61,333.89 L535.33,333.65 L535.93,334.20 L536.40,333.80" fill="none" stroke="#7064b6" stroke-width="1.85" stroke-linejoin="round" stroke-linecap="round"/>
<path d="M381.70,345.00 L382.18,344.89 L382.78,344.75 L383.48,344.69 L384.28,345.35 L385.15,345.04 L386.08,345.13 L387.06,345.00 L388.06,344.84 L389.07,345.14 L390.07,345.00 L391.06,345.18 L392.00,345.07 L392.90,345.24 L393.72,344.89 L394.45,344.64 L395.09,344.66 L395.60,345.20 L397.12,344.64 L397.00,346.14 L397.09,346.62 L397.17,346.72 L397.24,348.06 L397.31,348.15 L397.37,349.73 L397.42,350.58 L397.47,350.94 L397.53,352.34 L397.58,353.30 L397.64,353.71 L397.70,355.15 L397.75,355.44 L397.81,357.00 L397.86,357.71 L397.92,358.92 L397.98,359.06 L398.04,360.28 L398.09,361.52 L398.15,362.46 L398.20,362.99 L398.25,364.48 L398.30,365.23 L398.34,365.44 L398.37,365.90 L398.40,366.85 L398.44,366.13 L398.49,365.74 L398.55,364.86 L398.62,363.95 L398.69,362.72 L398.77,361.88 L398.85,361.19 L398.93,360.43 L399.02,359.17 L399.10,358.49 L399.18,357.38 L399.26,356.82 L399.33,355.83 L399.40,354.84 L399.51,353.49 L399.61,352.40 L399.69,351.47 L399.78,351.40 L399.89,350.68 L400.02,349.89 L400.20,348.65 L400.51,348.14 L400.86,346.88 L401.37,346.87 L402.20,345.94 L402.78,345.63 L403.47,345.10 L404.24,344.52 L405.08,344.51 L405.94,344.22 L406.82,343.21 L407.68,343.05 L408.50,343.01 L409.30,342.71 L410.09,342.28 L410.89,342.16 L411.69,342.48 L412.50,341.72 L413.30,341.50 L414.10,341.73 L414.90,341.10 L415.71,341.35 L416.53,340.50 L417.35,340.68 L418.17,339.80 L418.98,339.84 L419.78,339.28 L420.55,338.80 L421.30,337.84 L422.03,337.26 L422.75,336.53 L423.45,336.02 L424.14,335.79 L424.80,334.60 L425.43,334.13 L426.04,333.85 L426.60,332.99 L427.40,332.55 L428.10,332.03 L428.74,332.07 L429.36,331.17 L430.00,331.45 L430.54,330.54 L431.07,330.02 L431.59,329.21 L432.13,328.48 L432.69,328.25 L433.30,327.55 L433.96,326.89 L434.66,325.58 L435.38,325.49 L436.12,325.25 L436.87,324.47 L437.60,323.91 L438.49,323.63 L439.41,322.93 L440.31,323.19 L441.19,322.96 L442.00,321.91 L442.74,321.78 L443.43,321.24 L444.08,320.35 L444.70,319.92 L445.30,319.38 L445.78,318.71 L446.22,317.48 L446.65,316.62 L447.08,316.50 L447.52,315.50 L448.00,314.90 L448.44,314.20 L448.90,312.88 L449.38,312.34 L449.86,311.26 L450.35,310.91 L450.83,310.06 L451.30,308.97 L451.84,308.42 L452.37,307.71 L452.90,306.63 L453.43,305.96 L453.96,305.77 L454.50,305.21 L455.15,305.72 L455.81,306.55 L456.48,307.12 L457.14,307.26 L457.80,308.89 L458.17,309.38 L458.54,310.06 L458.92,310.19 L459.30,311.65 L459.67,311.95 L460.04,313.31 L460.41,313.66 L460.76,314.43 L461.10,314.91 L461.57,316.39 L461.98,316.59 L462.38,317.89 L462.80,318.24 L463.26,318.55 L463.80,319.64 L464.42,320.14 L465.10,320.27 L465.83,321.53 L466.60,321.57 L467.39,321.86 L468.20,323.04 L468.92,323.42 L469.66,323.51 L470.43,323.71 L471.21,324.39 L472.01,324.83 L472.80,325.33 L473.60,325.59 L474.30,326.08 L475.02,326.66 L475.74,326.65 L476.47,327.11 L477.19,327.86 L477.91,328.57 L478.61,329.06 L479.30,329.52 L480.06,329.59 L480.80,330.27 L481.53,330.14 L482.25,330.80 L482.96,330.89 L483.68,331.95 L484.40,332.45 L485.26,332.55 L486.13,333.00 L486.99,333.02 L487.85,333.73 L488.69,333.38 L489.50,333.88 L490.42,334.07 L491.30,334.66 L492.15,334.12 L493.01,334.18 L493.90,334.23 L494.82,335.05 L495.75,334.73 L496.70,335.43 L497.65,335.06 L498.60,335.70 L499.39,335.28 L500.19,336.07 L500.99,336.30 L501.80,336.37 L502.60,336.35 L503.40,336.66 L504.20,336.77 L505.00,336.88 L505.81,336.32 L506.61,336.89 L507.41,336.89 L508.20,336.56 L509.14,336.49 L510.08,337.25 L511.02,336.97 L511.96,337.13 L512.90,337.55 L513.71,337.27 L514.56,337.15 L515.40,337.63 L516.22,337.58 L517.00,337.42 L517.70,337.87 L518.95,337.94 L520.01,337.20 L520.80,338.28 L520.99,338.81 L521.12,339.40 L521.20,340.06 L521.25,341.52 L521.28,342.20 L521.30,343.12 L521.34,344.46 L521.40,344.49 L522.10,344.33 L522.17,344.45 L522.23,343.82 L522.29,342.28 L522.35,341.34 L522.41,340.39 L522.47,339.50 L522.54,337.81 L522.62,337.46 L522.70,336.32 L522.80,336.39 L524.20,335.92 L524.73,336.46 L525.38,336.10 L526.14,336.38 L527.00,335.94 L527.92,336.21 L528.89,336.42 L529.89,336.62 L530.89,336.57 L531.88,336.93 L532.84,336.76 L533.74,337.31 L534.57,337.77 L535.30,337.78 L535.92,337.65 L536.40,337.60" fill="none" stroke="#fd0c82" stroke-width="1.85" stroke-linejoin="round" stroke-linecap="round"/>
</g>
<text x="450.00" y="347.50" font-size="10.3" text-anchor="start" >3393</text>
<text x="384.00" y="435.10" font-size="10.3" text-anchor="start" >3672</text>
<line x1="528.10" y1="269.40" x2="528.10" y2="282.40" stroke="#9a9a9a" stroke-width="1.8"/>
<line x1="526.80" y1="269.40" x2="529.40" y2="269.40" stroke="#9a9a9a" stroke-width="1.8"/>
<line x1="526.80" y1="282.40" x2="529.40" y2="282.40" stroke="#9a9a9a" stroke-width="1.8"/>
<text x="505.80" y="279.60" font-size="10.3" text-anchor="start" >0.05</text>
<line x1="400.20" y1="378.10" x2="425.30" y2="378.10" stroke="#00966a" stroke-width="2.0"/>
<text x="428.10" y="381.50" font-size="10.7" text-anchor="start" >UiO-66-60BA (RT)</text>
<line x1="400.20" y1="391.10" x2="425.30" y2="391.10" stroke="#ff5200" stroke-width="2.0"/>
<text x="428.10" y="394.50" font-size="10.7" text-anchor="start" >UiO-66-60BA (150 <tspan font-size="9.4" dy="0.5" style="stroke-width:0.12px">°</tspan><tspan dy="-0.5" dx="0.1">C</tspan>)</text>
<line x1="400.20" y1="404.40" x2="425.30" y2="404.40" stroke="#7064b6" stroke-width="2.0"/>
<text x="428.10" y="407.80" font-size="10.7" text-anchor="start" >UiO-66-60BA (200 <tspan font-size="9.4" dy="0.5" style="stroke-width:0.12px">°</tspan><tspan dy="-0.5" dx="0.1">C</tspan>)</text>
<line x1="400.20" y1="417.50" x2="425.30" y2="417.50" stroke="#fd0c82" stroke-width="2.0"/>
<text x="428.10" y="420.90" font-size="10.7" text-anchor="start" >UiO-66-60BA (250 <tspan font-size="9.4" dy="0.5" style="stroke-width:0.12px">°</tspan><tspan dy="-0.5" dx="0.1">C</tspan>)</text>
<rect x="20.30" y="5.80" width="154.40" height="197.20" fill="none" stroke="#555555" stroke-width="1.7"/>
<rect x="20.30" y="240.80" width="154.40" height="197.90" fill="none" stroke="#555555" stroke-width="1.7"/>
<rect x="200.50" y="5.80" width="154.40" height="197.20" fill="none" stroke="#555555" stroke-width="1.7"/>
<rect x="200.50" y="240.80" width="154.40" height="197.90" fill="none" stroke="#555555" stroke-width="1.7"/>
<rect x="381.90" y="5.80" width="154.40" height="197.20" fill="none" stroke="#555555" stroke-width="1.7"/>
<rect x="381.90" y="240.80" width="154.40" height="197.90" fill="none" stroke="#555555" stroke-width="1.7"/>
</svg>
</body></html>
